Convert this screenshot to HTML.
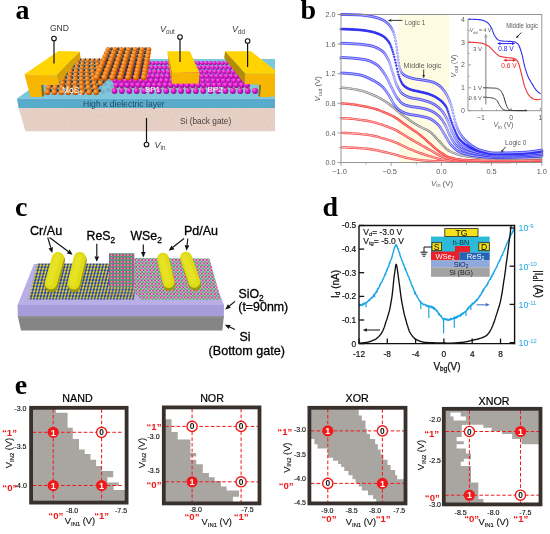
<!DOCTYPE html>
<html><head><meta charset="utf-8"><title>Figure</title>
<style>html,body{margin:0;padding:0;background:#fff}svg{display:block}text{white-space:pre}</style></head>
<body><svg width="550" height="534" viewBox="0 0 550 534">
<rect width="550" height="534" fill="#fff"/>
<defs>
<radialGradient id="gO" cx="35%" cy="30%" r="70%"><stop offset="0" stop-color="#ffb060"/><stop offset="0.5" stop-color="#f07c10"/><stop offset="1" stop-color="#b04800"/></radialGradient>
<radialGradient id="gM" cx="35%" cy="30%" r="70%"><stop offset="0" stop-color="#ff70f0"/><stop offset="0.45" stop-color="#e818cc"/><stop offset="1" stop-color="#8a0e92"/></radialGradient>
<radialGradient id="gK" cx="35%" cy="30%" r="70%"><stop offset="0" stop-color="#666"/><stop offset="1" stop-color="#111"/></radialGradient>
<filter id="noise" x="0" y="0" width="100%" height="100%"><feTurbulence type="fractalNoise" baseFrequency="0.9" numOctaves="2" seed="3" result="n"/><feColorMatrix in="n" type="matrix" values="0 0 0 0 0.88  0 0 0 0 0.78  0 0 0 0 0.74  0.9 0.9 0 0 -0.55"/><feComposite operator="in" in2="SourceGraphic"/></filter>
</defs>
<polygon points="18.6,108.0 275.0,108.0 275.0,131.3 25.5,131.3" fill="#e3c9bd" />
<polygon points="18.6,108.0 275.0,108.0 275.0,131.3 25.5,131.3" fill="#cfa79a" filter="url(#noise)" opacity="0.6"/>
<polygon points="17.0,98.5 72.0,59.0 275.0,59.0 275.0,98.5" fill="#7cc6de" />
<polygon points="17.0,98.5 275.0,98.5 275.0,108.0 18.6,108.0" fill="#59abcb" />
<circle cx="120.6" cy="63.2" r="2.15" fill="url(#gM)"/>
<circle cx="124.7" cy="63.2" r="2.15" fill="url(#gM)"/>
<circle cx="128.7" cy="63.2" r="2.15" fill="url(#gM)"/>
<circle cx="132.8" cy="63.2" r="2.15" fill="url(#gM)"/>
<circle cx="136.9" cy="63.2" r="2.15" fill="url(#gM)"/>
<circle cx="141.0" cy="63.2" r="2.15" fill="url(#gM)"/>
<circle cx="145.1" cy="63.2" r="2.15" fill="url(#gM)"/>
<circle cx="149.2" cy="63.2" r="2.15" fill="url(#gM)"/>
<circle cx="153.3" cy="63.2" r="2.15" fill="url(#gM)"/>
<circle cx="157.3" cy="63.2" r="2.15" fill="url(#gM)"/>
<circle cx="161.4" cy="63.2" r="2.15" fill="url(#gM)"/>
<circle cx="165.5" cy="63.2" r="2.15" fill="url(#gM)"/>
<circle cx="169.6" cy="63.2" r="2.15" fill="url(#gM)"/>
<circle cx="173.7" cy="63.2" r="2.15" fill="url(#gM)"/>
<circle cx="177.8" cy="63.2" r="2.15" fill="url(#gM)"/>
<circle cx="181.8" cy="63.2" r="2.15" fill="url(#gM)"/>
<circle cx="185.9" cy="63.2" r="2.15" fill="url(#gM)"/>
<circle cx="190.0" cy="63.2" r="2.15" fill="url(#gM)"/>
<circle cx="194.1" cy="63.2" r="2.15" fill="url(#gM)"/>
<circle cx="198.2" cy="63.2" r="2.15" fill="url(#gM)"/>
<circle cx="202.3" cy="63.2" r="2.15" fill="url(#gM)"/>
<circle cx="206.4" cy="63.2" r="2.15" fill="url(#gM)"/>
<circle cx="210.4" cy="63.2" r="2.15" fill="url(#gM)"/>
<circle cx="214.5" cy="63.2" r="2.15" fill="url(#gM)"/>
<circle cx="218.6" cy="63.2" r="2.15" fill="url(#gM)"/>
<circle cx="222.7" cy="63.2" r="2.15" fill="url(#gM)"/>
<circle cx="226.8" cy="63.2" r="2.15" fill="url(#gM)"/>
<circle cx="121.4" cy="67.6" r="2.29" fill="url(#gM)"/>
<circle cx="125.8" cy="67.6" r="2.29" fill="url(#gM)"/>
<circle cx="130.1" cy="67.6" r="2.29" fill="url(#gM)"/>
<circle cx="134.5" cy="67.6" r="2.29" fill="url(#gM)"/>
<circle cx="138.8" cy="67.6" r="2.29" fill="url(#gM)"/>
<circle cx="143.2" cy="67.6" r="2.29" fill="url(#gM)"/>
<circle cx="147.5" cy="67.6" r="2.29" fill="url(#gM)"/>
<circle cx="151.9" cy="67.6" r="2.29" fill="url(#gM)"/>
<circle cx="156.2" cy="67.6" r="2.29" fill="url(#gM)"/>
<circle cx="160.6" cy="67.6" r="2.29" fill="url(#gM)"/>
<circle cx="165.0" cy="67.6" r="2.29" fill="url(#gM)"/>
<circle cx="169.3" cy="67.6" r="2.29" fill="url(#gM)"/>
<circle cx="173.7" cy="67.6" r="2.29" fill="url(#gM)"/>
<circle cx="178.0" cy="67.6" r="2.29" fill="url(#gM)"/>
<circle cx="182.4" cy="67.6" r="2.29" fill="url(#gM)"/>
<circle cx="186.7" cy="67.6" r="2.29" fill="url(#gM)"/>
<circle cx="191.1" cy="67.6" r="2.29" fill="url(#gM)"/>
<circle cx="195.5" cy="67.6" r="2.29" fill="url(#gM)"/>
<circle cx="199.8" cy="67.6" r="2.29" fill="url(#gM)"/>
<circle cx="204.2" cy="67.6" r="2.29" fill="url(#gM)"/>
<circle cx="208.5" cy="67.6" r="2.29" fill="url(#gM)"/>
<circle cx="212.9" cy="67.6" r="2.29" fill="url(#gM)"/>
<circle cx="217.2" cy="67.6" r="2.29" fill="url(#gM)"/>
<circle cx="221.6" cy="67.6" r="2.29" fill="url(#gM)"/>
<circle cx="225.9" cy="67.6" r="2.29" fill="url(#gM)"/>
<circle cx="230.3" cy="67.6" r="2.29" fill="url(#gM)"/>
<circle cx="117.9" cy="72.0" r="2.43" fill="url(#gM)"/>
<circle cx="122.5" cy="72.0" r="2.43" fill="url(#gM)"/>
<circle cx="127.1" cy="72.0" r="2.43" fill="url(#gM)"/>
<circle cx="131.7" cy="72.0" r="2.43" fill="url(#gM)"/>
<circle cx="136.4" cy="72.0" r="2.43" fill="url(#gM)"/>
<circle cx="141.0" cy="72.0" r="2.43" fill="url(#gM)"/>
<circle cx="145.6" cy="72.0" r="2.43" fill="url(#gM)"/>
<circle cx="150.3" cy="72.0" r="2.43" fill="url(#gM)"/>
<circle cx="154.9" cy="72.0" r="2.43" fill="url(#gM)"/>
<circle cx="159.5" cy="72.0" r="2.43" fill="url(#gM)"/>
<circle cx="164.1" cy="72.0" r="2.43" fill="url(#gM)"/>
<circle cx="168.8" cy="72.0" r="2.43" fill="url(#gM)"/>
<circle cx="173.4" cy="72.0" r="2.43" fill="url(#gM)"/>
<circle cx="178.0" cy="72.0" r="2.43" fill="url(#gM)"/>
<circle cx="182.6" cy="72.0" r="2.43" fill="url(#gM)"/>
<circle cx="187.3" cy="72.0" r="2.43" fill="url(#gM)"/>
<circle cx="191.9" cy="72.0" r="2.43" fill="url(#gM)"/>
<circle cx="196.5" cy="72.0" r="2.43" fill="url(#gM)"/>
<circle cx="201.2" cy="72.0" r="2.43" fill="url(#gM)"/>
<circle cx="205.8" cy="72.0" r="2.43" fill="url(#gM)"/>
<circle cx="210.4" cy="72.0" r="2.43" fill="url(#gM)"/>
<circle cx="215.0" cy="72.0" r="2.43" fill="url(#gM)"/>
<circle cx="219.7" cy="72.0" r="2.43" fill="url(#gM)"/>
<circle cx="224.3" cy="72.0" r="2.43" fill="url(#gM)"/>
<circle cx="228.9" cy="72.0" r="2.43" fill="url(#gM)"/>
<circle cx="233.6" cy="72.0" r="2.43" fill="url(#gM)"/>
<circle cx="238.2" cy="72.0" r="2.43" fill="url(#gM)"/>
<circle cx="119.0" cy="76.4" r="2.58" fill="url(#gM)"/>
<circle cx="123.9" cy="76.4" r="2.58" fill="url(#gM)"/>
<circle cx="128.8" cy="76.4" r="2.58" fill="url(#gM)"/>
<circle cx="133.7" cy="76.4" r="2.58" fill="url(#gM)"/>
<circle cx="138.6" cy="76.4" r="2.58" fill="url(#gM)"/>
<circle cx="143.4" cy="76.4" r="2.58" fill="url(#gM)"/>
<circle cx="148.3" cy="76.4" r="2.58" fill="url(#gM)"/>
<circle cx="153.2" cy="76.4" r="2.58" fill="url(#gM)"/>
<circle cx="158.1" cy="76.4" r="2.58" fill="url(#gM)"/>
<circle cx="163.0" cy="76.4" r="2.58" fill="url(#gM)"/>
<circle cx="167.9" cy="76.4" r="2.58" fill="url(#gM)"/>
<circle cx="172.8" cy="76.4" r="2.58" fill="url(#gM)"/>
<circle cx="177.7" cy="76.4" r="2.58" fill="url(#gM)"/>
<circle cx="182.6" cy="76.4" r="2.58" fill="url(#gM)"/>
<circle cx="187.5" cy="76.4" r="2.58" fill="url(#gM)"/>
<circle cx="192.4" cy="76.4" r="2.58" fill="url(#gM)"/>
<circle cx="197.3" cy="76.4" r="2.58" fill="url(#gM)"/>
<circle cx="202.2" cy="76.4" r="2.58" fill="url(#gM)"/>
<circle cx="207.1" cy="76.4" r="2.58" fill="url(#gM)"/>
<circle cx="212.0" cy="76.4" r="2.58" fill="url(#gM)"/>
<circle cx="216.9" cy="76.4" r="2.58" fill="url(#gM)"/>
<circle cx="221.8" cy="76.4" r="2.58" fill="url(#gM)"/>
<circle cx="226.7" cy="76.4" r="2.58" fill="url(#gM)"/>
<circle cx="231.6" cy="76.4" r="2.58" fill="url(#gM)"/>
<circle cx="236.5" cy="76.4" r="2.58" fill="url(#gM)"/>
<circle cx="241.4" cy="76.4" r="2.58" fill="url(#gM)"/>
<circle cx="115.1" cy="80.8" r="2.72" fill="url(#gM)"/>
<circle cx="120.3" cy="80.8" r="2.72" fill="url(#gM)"/>
<circle cx="125.5" cy="80.8" r="2.72" fill="url(#gM)"/>
<circle cx="130.7" cy="80.8" r="2.72" fill="url(#gM)"/>
<circle cx="135.8" cy="80.8" r="2.72" fill="url(#gM)"/>
<circle cx="141.0" cy="80.8" r="2.72" fill="url(#gM)"/>
<circle cx="146.2" cy="80.8" r="2.72" fill="url(#gM)"/>
<circle cx="151.3" cy="80.8" r="2.72" fill="url(#gM)"/>
<circle cx="156.5" cy="80.8" r="2.72" fill="url(#gM)"/>
<circle cx="161.7" cy="80.8" r="2.72" fill="url(#gM)"/>
<circle cx="166.9" cy="80.8" r="2.72" fill="url(#gM)"/>
<circle cx="172.0" cy="80.8" r="2.72" fill="url(#gM)"/>
<circle cx="177.2" cy="80.8" r="2.72" fill="url(#gM)"/>
<circle cx="182.4" cy="80.8" r="2.72" fill="url(#gM)"/>
<circle cx="187.5" cy="80.8" r="2.72" fill="url(#gM)"/>
<circle cx="192.7" cy="80.8" r="2.72" fill="url(#gM)"/>
<circle cx="197.9" cy="80.8" r="2.72" fill="url(#gM)"/>
<circle cx="203.0" cy="80.8" r="2.72" fill="url(#gM)"/>
<circle cx="208.2" cy="80.8" r="2.72" fill="url(#gM)"/>
<circle cx="213.4" cy="80.8" r="2.72" fill="url(#gM)"/>
<circle cx="218.6" cy="80.8" r="2.72" fill="url(#gM)"/>
<circle cx="223.7" cy="80.8" r="2.72" fill="url(#gM)"/>
<circle cx="228.9" cy="80.8" r="2.72" fill="url(#gM)"/>
<circle cx="234.1" cy="80.8" r="2.72" fill="url(#gM)"/>
<circle cx="239.2" cy="80.8" r="2.72" fill="url(#gM)"/>
<circle cx="244.4" cy="80.8" r="2.72" fill="url(#gM)"/>
<circle cx="116.5" cy="85.2" r="2.86" fill="url(#gM)"/>
<circle cx="122.0" cy="85.2" r="2.86" fill="url(#gM)"/>
<circle cx="127.4" cy="85.2" r="2.86" fill="url(#gM)"/>
<circle cx="132.8" cy="85.2" r="2.86" fill="url(#gM)"/>
<circle cx="138.3" cy="85.2" r="2.86" fill="url(#gM)"/>
<circle cx="143.7" cy="85.2" r="2.86" fill="url(#gM)"/>
<circle cx="149.2" cy="85.2" r="2.86" fill="url(#gM)"/>
<circle cx="154.6" cy="85.2" r="2.86" fill="url(#gM)"/>
<circle cx="160.0" cy="85.2" r="2.86" fill="url(#gM)"/>
<circle cx="165.5" cy="85.2" r="2.86" fill="url(#gM)"/>
<circle cx="170.9" cy="85.2" r="2.86" fill="url(#gM)"/>
<circle cx="176.4" cy="85.2" r="2.86" fill="url(#gM)"/>
<circle cx="181.8" cy="85.2" r="2.86" fill="url(#gM)"/>
<circle cx="187.3" cy="85.2" r="2.86" fill="url(#gM)"/>
<circle cx="192.7" cy="85.2" r="2.86" fill="url(#gM)"/>
<circle cx="198.1" cy="85.2" r="2.86" fill="url(#gM)"/>
<circle cx="203.6" cy="85.2" r="2.86" fill="url(#gM)"/>
<circle cx="209.0" cy="85.2" r="2.86" fill="url(#gM)"/>
<circle cx="214.5" cy="85.2" r="2.86" fill="url(#gM)"/>
<circle cx="219.9" cy="85.2" r="2.86" fill="url(#gM)"/>
<circle cx="225.4" cy="85.2" r="2.86" fill="url(#gM)"/>
<circle cx="230.8" cy="85.2" r="2.86" fill="url(#gM)"/>
<circle cx="236.2" cy="85.2" r="2.86" fill="url(#gM)"/>
<circle cx="241.7" cy="85.2" r="2.86" fill="url(#gM)"/>
<circle cx="247.1" cy="85.2" r="2.86" fill="url(#gM)"/>
<circle cx="115.7" cy="88.2" r="0.8" fill="#f08020"/>
<circle cx="112.1" cy="88.4" r="0.7" fill="#f0a030"/>
<circle cx="114.5" cy="91.0" r="2.90" fill="url(#gM)"/>
<circle cx="123.1" cy="88.2" r="0.8" fill="#f08020"/>
<circle cx="119.5" cy="88.4" r="0.7" fill="#f0a030"/>
<circle cx="121.9" cy="91.0" r="2.90" fill="url(#gM)"/>
<circle cx="130.5" cy="88.2" r="0.8" fill="#f08020"/>
<circle cx="126.9" cy="88.4" r="0.7" fill="#f0a030"/>
<circle cx="129.3" cy="91.0" r="2.90" fill="url(#gM)"/>
<circle cx="137.9" cy="88.2" r="0.8" fill="#f08020"/>
<circle cx="134.3" cy="88.4" r="0.7" fill="#f0a030"/>
<circle cx="136.7" cy="91.0" r="2.90" fill="url(#gM)"/>
<circle cx="145.3" cy="88.2" r="0.8" fill="#f08020"/>
<circle cx="141.7" cy="88.4" r="0.7" fill="#f0a030"/>
<circle cx="144.1" cy="91.0" r="2.90" fill="url(#gM)"/>
<circle cx="152.7" cy="88.2" r="0.8" fill="#f08020"/>
<circle cx="149.1" cy="88.4" r="0.7" fill="#f0a030"/>
<circle cx="151.5" cy="91.0" r="2.90" fill="url(#gM)"/>
<circle cx="160.1" cy="88.2" r="0.8" fill="#f08020"/>
<circle cx="156.5" cy="88.4" r="0.7" fill="#f0a030"/>
<circle cx="158.9" cy="91.0" r="2.90" fill="url(#gM)"/>
<circle cx="167.5" cy="88.2" r="0.8" fill="#f08020"/>
<circle cx="163.9" cy="88.4" r="0.7" fill="#f0a030"/>
<circle cx="166.3" cy="91.0" r="2.90" fill="url(#gM)"/>
<circle cx="174.9" cy="88.2" r="0.8" fill="#f08020"/>
<circle cx="171.3" cy="88.4" r="0.7" fill="#f0a030"/>
<circle cx="173.7" cy="91.0" r="2.90" fill="url(#gM)"/>
<circle cx="182.3" cy="88.2" r="0.8" fill="#f08020"/>
<circle cx="178.7" cy="88.4" r="0.7" fill="#f0a030"/>
<circle cx="181.1" cy="91.0" r="2.90" fill="url(#gM)"/>
<circle cx="189.7" cy="88.2" r="0.8" fill="#f08020"/>
<circle cx="186.1" cy="88.4" r="0.7" fill="#f0a030"/>
<circle cx="188.5" cy="91.0" r="2.90" fill="url(#gM)"/>
<circle cx="197.1" cy="88.2" r="0.8" fill="#f08020"/>
<circle cx="193.5" cy="88.4" r="0.7" fill="#f0a030"/>
<circle cx="195.9" cy="91.0" r="2.90" fill="url(#gM)"/>
<circle cx="204.5" cy="88.2" r="0.8" fill="#f08020"/>
<circle cx="200.9" cy="88.4" r="0.7" fill="#f0a030"/>
<circle cx="203.3" cy="91.0" r="2.90" fill="url(#gM)"/>
<circle cx="211.9" cy="88.2" r="0.8" fill="#f08020"/>
<circle cx="208.3" cy="88.4" r="0.7" fill="#f0a030"/>
<circle cx="210.7" cy="91.0" r="2.90" fill="url(#gM)"/>
<circle cx="219.3" cy="88.2" r="0.8" fill="#f08020"/>
<circle cx="215.7" cy="88.4" r="0.7" fill="#f0a030"/>
<circle cx="218.1" cy="91.0" r="2.90" fill="url(#gM)"/>
<circle cx="226.7" cy="88.2" r="0.8" fill="#f08020"/>
<circle cx="223.1" cy="88.4" r="0.7" fill="#f0a030"/>
<circle cx="225.5" cy="91.0" r="2.90" fill="url(#gM)"/>
<circle cx="234.1" cy="88.2" r="0.8" fill="#f08020"/>
<circle cx="230.5" cy="88.4" r="0.7" fill="#f0a030"/>
<circle cx="232.9" cy="91.0" r="2.90" fill="url(#gM)"/>
<circle cx="241.5" cy="88.2" r="0.8" fill="#f08020"/>
<circle cx="237.9" cy="88.4" r="0.7" fill="#f0a030"/>
<circle cx="240.3" cy="91.0" r="2.90" fill="url(#gM)"/>
<circle cx="248.9" cy="88.2" r="0.8" fill="#f08020"/>
<circle cx="245.3" cy="88.4" r="0.7" fill="#f0a030"/>
<circle cx="247.7" cy="91.0" r="2.90" fill="url(#gM)"/>
<circle cx="256.3" cy="88.2" r="0.8" fill="#f08020"/>
<circle cx="252.7" cy="88.4" r="0.7" fill="#f0a030"/>
<circle cx="255.1" cy="91.0" r="2.90" fill="url(#gM)"/>
<circle cx="100.0" cy="88.0" r="2.2" fill="#7f9fb0" opacity="0.55"/>
<circle cx="105.0" cy="84.0" r="2.2" fill="#7f9fb0" opacity="0.55"/>
<circle cx="108.0" cy="90.0" r="2.2" fill="#7f9fb0" opacity="0.55"/>
<circle cx="112.0" cy="86.0" r="2.2" fill="#7f9fb0" opacity="0.55"/>
<circle cx="103.0" cy="92.0" r="2.2" fill="#7f9fb0" opacity="0.55"/>
<circle cx="110.0" cy="80.0" r="2.2" fill="#7f9fb0" opacity="0.55"/>
<circle cx="76.0" cy="59.4" r="1.06" fill="url(#gK)"/>
<circle cx="73.8" cy="60.5" r="1.93" fill="url(#gO)"/>
<circle cx="80.6" cy="59.4" r="1.06" fill="url(#gK)"/>
<circle cx="78.5" cy="60.5" r="1.93" fill="url(#gO)"/>
<circle cx="85.3" cy="59.4" r="1.06" fill="url(#gK)"/>
<circle cx="83.2" cy="60.5" r="1.93" fill="url(#gO)"/>
<circle cx="89.9" cy="59.4" r="1.06" fill="url(#gK)"/>
<circle cx="87.8" cy="60.5" r="1.93" fill="url(#gO)"/>
<circle cx="94.6" cy="59.4" r="1.06" fill="url(#gK)"/>
<circle cx="92.5" cy="60.5" r="1.93" fill="url(#gO)"/>
<circle cx="99.2" cy="59.4" r="1.06" fill="url(#gK)"/>
<circle cx="97.1" cy="60.5" r="1.93" fill="url(#gO)"/>
<circle cx="103.9" cy="59.4" r="1.06" fill="url(#gK)"/>
<circle cx="101.8" cy="60.5" r="1.93" fill="url(#gO)"/>
<circle cx="108.6" cy="59.4" r="1.06" fill="url(#gK)"/>
<circle cx="106.4" cy="60.5" r="1.93" fill="url(#gO)"/>
<circle cx="113.2" cy="59.4" r="1.06" fill="url(#gK)"/>
<circle cx="111.1" cy="60.5" r="1.93" fill="url(#gO)"/>
<circle cx="117.9" cy="59.4" r="1.06" fill="url(#gK)"/>
<circle cx="115.7" cy="60.5" r="1.93" fill="url(#gO)"/>
<circle cx="122.5" cy="59.4" r="1.06" fill="url(#gK)"/>
<circle cx="120.4" cy="60.5" r="1.93" fill="url(#gO)"/>
<circle cx="74.8" cy="62.8" r="1.12" fill="url(#gK)"/>
<circle cx="72.6" cy="64.0" r="2.03" fill="url(#gO)"/>
<circle cx="79.8" cy="62.8" r="1.12" fill="url(#gK)"/>
<circle cx="77.5" cy="64.0" r="2.03" fill="url(#gO)"/>
<circle cx="84.7" cy="62.8" r="1.12" fill="url(#gK)"/>
<circle cx="82.4" cy="64.0" r="2.03" fill="url(#gO)"/>
<circle cx="89.6" cy="62.8" r="1.12" fill="url(#gK)"/>
<circle cx="87.3" cy="64.0" r="2.03" fill="url(#gO)"/>
<circle cx="94.5" cy="62.8" r="1.12" fill="url(#gK)"/>
<circle cx="92.2" cy="64.0" r="2.03" fill="url(#gO)"/>
<circle cx="99.4" cy="62.8" r="1.12" fill="url(#gK)"/>
<circle cx="97.2" cy="64.0" r="2.03" fill="url(#gO)"/>
<circle cx="104.3" cy="62.8" r="1.12" fill="url(#gK)"/>
<circle cx="102.1" cy="64.0" r="2.03" fill="url(#gO)"/>
<circle cx="109.2" cy="62.8" r="1.12" fill="url(#gK)"/>
<circle cx="107.0" cy="64.0" r="2.03" fill="url(#gO)"/>
<circle cx="114.1" cy="62.8" r="1.12" fill="url(#gK)"/>
<circle cx="111.9" cy="64.0" r="2.03" fill="url(#gO)"/>
<circle cx="119.0" cy="62.8" r="1.12" fill="url(#gK)"/>
<circle cx="116.8" cy="64.0" r="2.03" fill="url(#gO)"/>
<circle cx="73.9" cy="66.3" r="1.18" fill="url(#gK)"/>
<circle cx="71.5" cy="67.6" r="2.14" fill="url(#gO)"/>
<circle cx="79.0" cy="66.3" r="1.18" fill="url(#gK)"/>
<circle cx="76.7" cy="67.6" r="2.14" fill="url(#gO)"/>
<circle cx="84.2" cy="66.3" r="1.18" fill="url(#gK)"/>
<circle cx="81.9" cy="67.6" r="2.14" fill="url(#gO)"/>
<circle cx="89.4" cy="66.3" r="1.18" fill="url(#gK)"/>
<circle cx="87.0" cy="67.6" r="2.14" fill="url(#gO)"/>
<circle cx="94.6" cy="66.3" r="1.18" fill="url(#gK)"/>
<circle cx="92.2" cy="67.6" r="2.14" fill="url(#gO)"/>
<circle cx="99.7" cy="66.3" r="1.18" fill="url(#gK)"/>
<circle cx="97.4" cy="67.6" r="2.14" fill="url(#gO)"/>
<circle cx="104.9" cy="66.3" r="1.18" fill="url(#gK)"/>
<circle cx="102.6" cy="67.6" r="2.14" fill="url(#gO)"/>
<circle cx="110.1" cy="66.3" r="1.18" fill="url(#gK)"/>
<circle cx="107.7" cy="67.6" r="2.14" fill="url(#gO)"/>
<circle cx="115.3" cy="66.3" r="1.18" fill="url(#gK)"/>
<circle cx="112.9" cy="67.6" r="2.14" fill="url(#gO)"/>
<circle cx="67.6" cy="70.0" r="1.24" fill="url(#gK)"/>
<circle cx="65.1" cy="71.3" r="2.26" fill="url(#gO)"/>
<circle cx="73.1" cy="70.0" r="1.24" fill="url(#gK)"/>
<circle cx="70.6" cy="71.3" r="2.26" fill="url(#gO)"/>
<circle cx="78.5" cy="70.0" r="1.24" fill="url(#gK)"/>
<circle cx="76.0" cy="71.3" r="2.26" fill="url(#gO)"/>
<circle cx="84.0" cy="70.0" r="1.24" fill="url(#gK)"/>
<circle cx="81.5" cy="71.3" r="2.26" fill="url(#gO)"/>
<circle cx="89.4" cy="70.0" r="1.24" fill="url(#gK)"/>
<circle cx="86.9" cy="71.3" r="2.26" fill="url(#gO)"/>
<circle cx="94.9" cy="70.0" r="1.24" fill="url(#gK)"/>
<circle cx="92.4" cy="71.3" r="2.26" fill="url(#gO)"/>
<circle cx="100.3" cy="70.0" r="1.24" fill="url(#gK)"/>
<circle cx="97.8" cy="71.3" r="2.26" fill="url(#gO)"/>
<circle cx="105.8" cy="70.0" r="1.24" fill="url(#gK)"/>
<circle cx="103.3" cy="71.3" r="2.26" fill="url(#gO)"/>
<circle cx="111.2" cy="70.0" r="1.24" fill="url(#gK)"/>
<circle cx="108.7" cy="71.3" r="2.26" fill="url(#gO)"/>
<circle cx="66.7" cy="73.7" r="1.31" fill="url(#gK)"/>
<circle cx="64.1" cy="75.1" r="2.37" fill="url(#gO)"/>
<circle cx="72.5" cy="73.7" r="1.31" fill="url(#gK)"/>
<circle cx="69.9" cy="75.1" r="2.37" fill="url(#gO)"/>
<circle cx="78.2" cy="73.7" r="1.31" fill="url(#gK)"/>
<circle cx="75.6" cy="75.1" r="2.37" fill="url(#gO)"/>
<circle cx="83.9" cy="73.7" r="1.31" fill="url(#gK)"/>
<circle cx="81.3" cy="75.1" r="2.37" fill="url(#gO)"/>
<circle cx="89.6" cy="73.7" r="1.31" fill="url(#gK)"/>
<circle cx="87.0" cy="75.1" r="2.37" fill="url(#gO)"/>
<circle cx="95.4" cy="73.7" r="1.31" fill="url(#gK)"/>
<circle cx="92.7" cy="75.1" r="2.37" fill="url(#gO)"/>
<circle cx="101.1" cy="73.7" r="1.31" fill="url(#gK)"/>
<circle cx="98.5" cy="75.1" r="2.37" fill="url(#gO)"/>
<circle cx="106.8" cy="73.7" r="1.31" fill="url(#gK)"/>
<circle cx="104.2" cy="75.1" r="2.37" fill="url(#gO)"/>
<circle cx="112.5" cy="73.7" r="1.31" fill="url(#gK)"/>
<circle cx="109.9" cy="75.1" r="2.37" fill="url(#gO)"/>
<circle cx="60.0" cy="77.5" r="1.37" fill="url(#gK)"/>
<circle cx="57.3" cy="79.0" r="2.49" fill="url(#gO)"/>
<circle cx="66.0" cy="77.5" r="1.37" fill="url(#gK)"/>
<circle cx="63.3" cy="79.0" r="2.49" fill="url(#gO)"/>
<circle cx="72.1" cy="77.5" r="1.37" fill="url(#gK)"/>
<circle cx="69.3" cy="79.0" r="2.49" fill="url(#gO)"/>
<circle cx="78.1" cy="77.5" r="1.37" fill="url(#gK)"/>
<circle cx="75.3" cy="79.0" r="2.49" fill="url(#gO)"/>
<circle cx="84.1" cy="77.5" r="1.37" fill="url(#gK)"/>
<circle cx="81.3" cy="79.0" r="2.49" fill="url(#gO)"/>
<circle cx="90.1" cy="77.5" r="1.37" fill="url(#gK)"/>
<circle cx="87.3" cy="79.0" r="2.49" fill="url(#gO)"/>
<circle cx="96.1" cy="77.5" r="1.37" fill="url(#gK)"/>
<circle cx="93.3" cy="79.0" r="2.49" fill="url(#gO)"/>
<circle cx="102.1" cy="77.5" r="1.37" fill="url(#gK)"/>
<circle cx="99.4" cy="79.0" r="2.49" fill="url(#gO)"/>
<circle cx="108.1" cy="77.5" r="1.37" fill="url(#gK)"/>
<circle cx="105.4" cy="79.0" r="2.49" fill="url(#gO)"/>
<circle cx="59.0" cy="81.7" r="1.44" fill="url(#gK)"/>
<circle cx="56.2" cy="83.2" r="2.62" fill="url(#gO)"/>
<circle cx="65.4" cy="81.7" r="1.44" fill="url(#gK)"/>
<circle cx="62.5" cy="83.2" r="2.62" fill="url(#gO)"/>
<circle cx="71.7" cy="81.7" r="1.44" fill="url(#gK)"/>
<circle cx="68.8" cy="83.2" r="2.62" fill="url(#gO)"/>
<circle cx="78.0" cy="81.7" r="1.44" fill="url(#gK)"/>
<circle cx="75.1" cy="83.2" r="2.62" fill="url(#gO)"/>
<circle cx="84.3" cy="81.7" r="1.44" fill="url(#gK)"/>
<circle cx="81.4" cy="83.2" r="2.62" fill="url(#gO)"/>
<circle cx="90.6" cy="81.7" r="1.44" fill="url(#gK)"/>
<circle cx="87.7" cy="83.2" r="2.62" fill="url(#gO)"/>
<circle cx="97.0" cy="81.7" r="1.44" fill="url(#gK)"/>
<circle cx="94.1" cy="83.2" r="2.62" fill="url(#gO)"/>
<circle cx="103.3" cy="81.7" r="1.44" fill="url(#gK)"/>
<circle cx="100.4" cy="83.2" r="2.62" fill="url(#gO)"/>
<circle cx="51.5" cy="86.0" r="1.52" fill="url(#gK)"/>
<circle cx="48.5" cy="87.6" r="2.75" fill="url(#gO)"/>
<circle cx="58.2" cy="86.0" r="1.52" fill="url(#gK)"/>
<circle cx="55.1" cy="87.6" r="2.75" fill="url(#gO)"/>
<circle cx="64.8" cy="86.0" r="1.52" fill="url(#gK)"/>
<circle cx="61.8" cy="87.6" r="2.75" fill="url(#gO)"/>
<circle cx="71.5" cy="86.0" r="1.52" fill="url(#gK)"/>
<circle cx="68.4" cy="87.6" r="2.75" fill="url(#gO)"/>
<circle cx="78.1" cy="86.0" r="1.52" fill="url(#gK)"/>
<circle cx="75.1" cy="87.6" r="2.75" fill="url(#gO)"/>
<circle cx="84.7" cy="86.0" r="1.52" fill="url(#gK)"/>
<circle cx="81.7" cy="87.6" r="2.75" fill="url(#gO)"/>
<circle cx="91.4" cy="86.0" r="1.52" fill="url(#gK)"/>
<circle cx="88.3" cy="87.6" r="2.75" fill="url(#gO)"/>
<circle cx="98.0" cy="86.0" r="1.52" fill="url(#gK)"/>
<circle cx="95.0" cy="87.6" r="2.75" fill="url(#gO)"/>
<circle cx="50.5" cy="90.5" r="1.59" fill="url(#gK)"/>
<circle cx="47.3" cy="92.2" r="2.89" fill="url(#gO)"/>
<circle cx="57.5" cy="90.5" r="1.59" fill="url(#gK)"/>
<circle cx="54.3" cy="92.2" r="2.89" fill="url(#gO)"/>
<circle cx="64.4" cy="90.5" r="1.59" fill="url(#gK)"/>
<circle cx="61.3" cy="92.2" r="2.89" fill="url(#gO)"/>
<circle cx="71.4" cy="90.5" r="1.59" fill="url(#gK)"/>
<circle cx="68.2" cy="92.2" r="2.89" fill="url(#gO)"/>
<circle cx="78.4" cy="90.5" r="1.59" fill="url(#gK)"/>
<circle cx="75.2" cy="92.2" r="2.89" fill="url(#gO)"/>
<circle cx="85.4" cy="90.5" r="1.59" fill="url(#gK)"/>
<circle cx="82.2" cy="92.2" r="2.89" fill="url(#gO)"/>
<circle cx="92.4" cy="90.5" r="1.59" fill="url(#gK)"/>
<circle cx="89.2" cy="92.2" r="2.89" fill="url(#gO)"/>
<circle cx="99.3" cy="90.5" r="1.59" fill="url(#gK)"/>
<circle cx="96.1" cy="92.2" r="2.89" fill="url(#gO)"/>
<circle cx="111.6" cy="49.0" r="1.70" fill="url(#gK)"/>
<circle cx="108.0" cy="49.5" r="2.55" fill="url(#gO)"/>
<circle cx="110.2" cy="52.5" r="1.70" fill="url(#gK)"/>
<circle cx="106.6" cy="53.0" r="2.61" fill="url(#gO)"/>
<circle cx="108.7" cy="56.0" r="1.70" fill="url(#gK)"/>
<circle cx="105.1" cy="56.5" r="2.66" fill="url(#gO)"/>
<circle cx="107.3" cy="59.5" r="1.70" fill="url(#gK)"/>
<circle cx="103.7" cy="60.0" r="2.72" fill="url(#gO)"/>
<circle cx="105.8" cy="63.0" r="1.70" fill="url(#gK)"/>
<circle cx="102.2" cy="63.5" r="2.77" fill="url(#gO)"/>
<circle cx="104.4" cy="66.5" r="1.70" fill="url(#gK)"/>
<circle cx="100.8" cy="67.0" r="2.83" fill="url(#gO)"/>
<circle cx="103.0" cy="70.0" r="1.70" fill="url(#gK)"/>
<circle cx="99.4" cy="70.5" r="2.89" fill="url(#gO)"/>
<circle cx="101.5" cy="73.5" r="1.70" fill="url(#gK)"/>
<circle cx="97.9" cy="74.0" r="2.94" fill="url(#gO)"/>
<circle cx="100.1" cy="77.0" r="1.70" fill="url(#gK)"/>
<circle cx="96.5" cy="77.5" r="3.00" fill="url(#gO)"/>
<circle cx="118.4" cy="49.0" r="1.70" fill="url(#gK)"/>
<circle cx="114.8" cy="49.5" r="2.55" fill="url(#gO)"/>
<circle cx="117.1" cy="52.5" r="1.70" fill="url(#gK)"/>
<circle cx="113.5" cy="53.0" r="2.61" fill="url(#gO)"/>
<circle cx="115.8" cy="56.0" r="1.70" fill="url(#gK)"/>
<circle cx="112.2" cy="56.5" r="2.66" fill="url(#gO)"/>
<circle cx="114.5" cy="59.5" r="1.70" fill="url(#gK)"/>
<circle cx="110.9" cy="60.0" r="2.72" fill="url(#gO)"/>
<circle cx="113.2" cy="63.0" r="1.70" fill="url(#gK)"/>
<circle cx="109.6" cy="63.5" r="2.77" fill="url(#gO)"/>
<circle cx="111.9" cy="66.5" r="1.70" fill="url(#gK)"/>
<circle cx="108.3" cy="67.0" r="2.83" fill="url(#gO)"/>
<circle cx="110.6" cy="70.0" r="1.70" fill="url(#gK)"/>
<circle cx="107.0" cy="70.5" r="2.89" fill="url(#gO)"/>
<circle cx="109.3" cy="73.5" r="1.70" fill="url(#gK)"/>
<circle cx="105.7" cy="74.0" r="2.94" fill="url(#gO)"/>
<circle cx="108.0" cy="77.0" r="1.70" fill="url(#gK)"/>
<circle cx="104.4" cy="77.5" r="3.00" fill="url(#gO)"/>
<circle cx="125.2" cy="49.0" r="1.70" fill="url(#gK)"/>
<circle cx="121.6" cy="49.5" r="2.55" fill="url(#gO)"/>
<circle cx="124.0" cy="52.5" r="1.70" fill="url(#gK)"/>
<circle cx="120.4" cy="53.0" r="2.61" fill="url(#gO)"/>
<circle cx="122.9" cy="56.0" r="1.70" fill="url(#gK)"/>
<circle cx="119.3" cy="56.5" r="2.66" fill="url(#gO)"/>
<circle cx="121.7" cy="59.5" r="1.70" fill="url(#gK)"/>
<circle cx="118.1" cy="60.0" r="2.72" fill="url(#gO)"/>
<circle cx="120.5" cy="63.0" r="1.70" fill="url(#gK)"/>
<circle cx="116.9" cy="63.5" r="2.77" fill="url(#gO)"/>
<circle cx="119.4" cy="66.5" r="1.70" fill="url(#gK)"/>
<circle cx="115.8" cy="67.0" r="2.83" fill="url(#gO)"/>
<circle cx="118.2" cy="70.0" r="1.70" fill="url(#gK)"/>
<circle cx="114.6" cy="70.5" r="2.89" fill="url(#gO)"/>
<circle cx="117.1" cy="73.5" r="1.70" fill="url(#gK)"/>
<circle cx="113.5" cy="74.0" r="2.94" fill="url(#gO)"/>
<circle cx="115.9" cy="77.0" r="1.70" fill="url(#gK)"/>
<circle cx="112.3" cy="77.5" r="3.00" fill="url(#gO)"/>
<circle cx="132.0" cy="49.0" r="1.70" fill="url(#gK)"/>
<circle cx="128.4" cy="49.5" r="2.55" fill="url(#gO)"/>
<circle cx="131.0" cy="52.5" r="1.70" fill="url(#gK)"/>
<circle cx="127.4" cy="53.0" r="2.61" fill="url(#gO)"/>
<circle cx="130.0" cy="56.0" r="1.70" fill="url(#gK)"/>
<circle cx="126.4" cy="56.5" r="2.66" fill="url(#gO)"/>
<circle cx="128.9" cy="59.5" r="1.70" fill="url(#gK)"/>
<circle cx="125.3" cy="60.0" r="2.72" fill="url(#gO)"/>
<circle cx="127.9" cy="63.0" r="1.70" fill="url(#gK)"/>
<circle cx="124.3" cy="63.5" r="2.77" fill="url(#gO)"/>
<circle cx="126.9" cy="66.5" r="1.70" fill="url(#gK)"/>
<circle cx="123.3" cy="67.0" r="2.83" fill="url(#gO)"/>
<circle cx="125.8" cy="70.0" r="1.70" fill="url(#gK)"/>
<circle cx="122.2" cy="70.5" r="2.89" fill="url(#gO)"/>
<circle cx="124.8" cy="73.5" r="1.70" fill="url(#gK)"/>
<circle cx="121.2" cy="74.0" r="2.94" fill="url(#gO)"/>
<circle cx="123.8" cy="77.0" r="1.70" fill="url(#gK)"/>
<circle cx="120.2" cy="77.5" r="3.00" fill="url(#gO)"/>
<circle cx="138.8" cy="49.0" r="1.70" fill="url(#gK)"/>
<circle cx="135.2" cy="49.5" r="2.55" fill="url(#gO)"/>
<circle cx="137.9" cy="52.5" r="1.70" fill="url(#gK)"/>
<circle cx="134.3" cy="53.0" r="2.61" fill="url(#gO)"/>
<circle cx="137.0" cy="56.0" r="1.70" fill="url(#gK)"/>
<circle cx="133.4" cy="56.5" r="2.66" fill="url(#gO)"/>
<circle cx="136.1" cy="59.5" r="1.70" fill="url(#gK)"/>
<circle cx="132.5" cy="60.0" r="2.72" fill="url(#gO)"/>
<circle cx="135.2" cy="63.0" r="1.70" fill="url(#gK)"/>
<circle cx="131.6" cy="63.5" r="2.77" fill="url(#gO)"/>
<circle cx="134.4" cy="66.5" r="1.70" fill="url(#gK)"/>
<circle cx="130.8" cy="67.0" r="2.83" fill="url(#gO)"/>
<circle cx="133.5" cy="70.0" r="1.70" fill="url(#gK)"/>
<circle cx="129.9" cy="70.5" r="2.89" fill="url(#gO)"/>
<circle cx="132.6" cy="73.5" r="1.70" fill="url(#gK)"/>
<circle cx="129.0" cy="74.0" r="2.94" fill="url(#gO)"/>
<circle cx="131.7" cy="77.0" r="1.70" fill="url(#gK)"/>
<circle cx="128.1" cy="77.5" r="3.00" fill="url(#gO)"/>
<circle cx="145.6" cy="49.0" r="1.70" fill="url(#gK)"/>
<circle cx="142.0" cy="49.5" r="2.55" fill="url(#gO)"/>
<circle cx="144.8" cy="52.5" r="1.70" fill="url(#gK)"/>
<circle cx="141.2" cy="53.0" r="2.61" fill="url(#gO)"/>
<circle cx="144.1" cy="56.0" r="1.70" fill="url(#gK)"/>
<circle cx="140.5" cy="56.5" r="2.66" fill="url(#gO)"/>
<circle cx="143.3" cy="59.5" r="1.70" fill="url(#gK)"/>
<circle cx="139.8" cy="60.0" r="2.72" fill="url(#gO)"/>
<circle cx="142.6" cy="63.0" r="1.70" fill="url(#gK)"/>
<circle cx="139.0" cy="63.5" r="2.77" fill="url(#gO)"/>
<circle cx="141.8" cy="66.5" r="1.70" fill="url(#gK)"/>
<circle cx="138.2" cy="67.0" r="2.83" fill="url(#gO)"/>
<circle cx="141.1" cy="70.0" r="1.70" fill="url(#gK)"/>
<circle cx="137.5" cy="70.5" r="2.89" fill="url(#gO)"/>
<circle cx="140.3" cy="73.5" r="1.70" fill="url(#gK)"/>
<circle cx="136.8" cy="74.0" r="2.94" fill="url(#gO)"/>
<circle cx="139.6" cy="77.0" r="1.70" fill="url(#gK)"/>
<circle cx="136.0" cy="77.5" r="3.00" fill="url(#gO)"/>
<circle cx="148.8" cy="49.5" r="2.55" fill="url(#gO)"/>
<circle cx="148.2" cy="53.0" r="2.61" fill="url(#gO)"/>
<circle cx="147.6" cy="56.5" r="2.66" fill="url(#gO)"/>
<circle cx="147.0" cy="60.0" r="2.72" fill="url(#gO)"/>
<circle cx="146.4" cy="63.5" r="2.77" fill="url(#gO)"/>
<circle cx="145.7" cy="67.0" r="2.83" fill="url(#gO)"/>
<circle cx="145.1" cy="70.5" r="2.89" fill="url(#gO)"/>
<circle cx="144.5" cy="74.0" r="2.94" fill="url(#gO)"/>
<circle cx="143.9" cy="77.5" r="3.00" fill="url(#gO)"/>
<polygon points="167.4,51.2 189.8,51.2 199.4,72.6 171.9,73.1" fill="#ffd400" />
<polygon points="171.9,73.1 199.4,72.6 198.8,83.4 171.9,83.8" fill="#f7b602" />
<polygon points="167.4,51.2 171.9,73.1 171.9,83.8 168.4,62.5" fill="#d6a106" />
<polygon points="225.1,51.2 251.0,51.2 275.0,70.3 275.0,73.7 245.3,73.7" fill="#ffd400" />
<polygon points="225.1,51.2 245.3,73.7 244.4,83.8 224.2,58.0" fill="#b48c08" />
<polygon points="245.3,73.7 275.0,73.7 275.0,96.4 260.0,97.3 261.0,85.0 244.4,83.8" fill="#f7b602" />
<polygon points="261.0,85.0 260.0,97.3 258.3,95.6 259.3,85.0" fill="#8a6a10" />
<polygon points="24.5,74.2 58.6,50.9 79.7,51.6 56.5,75.6" fill="#ffd400" />
<polygon points="56.5,75.6 79.7,51.6 80.5,57.5 59.4,82.2" fill="#d6a106" />
<polygon points="24.5,74.2 56.5,75.6 59.4,82.2 58.6,85.1 41.2,85.1 42.0,96.9 30.5,96.9" fill="#f7b602" />
<polygon points="41.2,85.1 42.0,96.9 44.2,95.2 43.4,85.1" fill="#8a6a10" />
<line x1="54.0" y1="40.8" x2="54.0" y2="63.5" stroke="#111" stroke-width="1.2" /><circle cx="54.0" cy="38.5" r="2.3" fill="#fff" stroke="#111" stroke-width="1.1"/>
<line x1="180.0" y1="39.3" x2="180.0" y2="62.0" stroke="#111" stroke-width="1.2" /><circle cx="180.0" cy="37.0" r="2.3" fill="#fff" stroke="#111" stroke-width="1.1"/>
<line x1="247.6" y1="43.3" x2="247.6" y2="67.0" stroke="#111" stroke-width="1.2" /><circle cx="247.6" cy="41.0" r="2.3" fill="#fff" stroke="#111" stroke-width="1.1"/>
<line x1="146.5" y1="118.0" x2="146.5" y2="142.0" stroke="#111" stroke-width="1.2" /><circle cx="146.5" cy="144.5" r="2.3" fill="#fff" stroke="#111" stroke-width="1.1"/>
<text x="59.5" y="30.5" font-size="8.6" fill="#3a3a3a" text-anchor="middle" font-family="'Liberation Sans', sans-serif" >GND</text>
<text x="160" y="32" font-size="9" fill="#3a3a3a" font-family="'Liberation Sans', sans-serif"><tspan font-style="italic">V</tspan><tspan font-size="6.3" dy="2.2">out</tspan></text>
<text x="232" y="32" font-size="9" fill="#3a3a3a" font-family="'Liberation Sans', sans-serif"><tspan font-style="italic">V</tspan><tspan font-size="6.3" dy="2.2">dd</tspan></text>
<text x="154.5" y="147.5" font-size="9" fill="#3a3a3a" font-family="'Liberation Sans', sans-serif"><tspan font-style="italic">V</tspan><tspan font-size="6.3" dy="2.2">in</tspan></text>
<text x="62" y="92.5" font-size="8.4" fill="#fff" font-family="'Liberation Sans', sans-serif">MoS<tspan font-size="5.5" dy="2">2</tspan></text>
<text x="145.0" y="92.0" font-size="8" fill="#fff" font-family="'Liberation Sans', sans-serif" >BP1</text>
<text x="207.5" y="92.0" font-size="8" fill="#fff" font-family="'Liberation Sans', sans-serif" >BP2</text>
<text x="83.0" y="107.0" font-size="8.6" fill="#1f4a60" font-family="'Liberation Sans', sans-serif" >High κ dielectric layer</text>
<text x="180.0" y="124.0" font-size="8.3" fill="#4a4040" font-family="'Liberation Sans', sans-serif" >Si (back gate)</text>
<text x="15.6" y="18.6" font-size="28" fill="#000" font-weight="bold" font-family="'Liberation Serif', serif" >a</text>
<defs>
<marker id="mb" markerWidth="5" markerHeight="5" refX="2.5" refY="2.5" markerUnits="userSpaceOnUse"><circle cx="2.5" cy="2.5" r="1.02" fill="none" stroke="#3030f4" stroke-width="0.5"/></marker>
<marker id="mbf" markerWidth="5" markerHeight="5" refX="2.5" refY="2.5" markerUnits="userSpaceOnUse"><circle cx="2.5" cy="2.5" r="0.95" fill="#3c3cf4" stroke="#3030f0" stroke-width="0.5"/></marker>
<marker id="mg" markerWidth="5" markerHeight="5" refX="2.5" refY="2.5" markerUnits="userSpaceOnUse"><circle cx="2.5" cy="2.5" r="0.95" fill="none" stroke="#858585" stroke-width="0.5"/></marker>
<marker id="mr" markerWidth="5" markerHeight="5" refX="2.5" refY="2.5" markerUnits="userSpaceOnUse"><circle cx="2.5" cy="2.5" r="0.9" fill="none" stroke="#f03030" stroke-width="0.45"/></marker>
</defs>
<rect x="398.4" y="14.5" width="50.6" height="148.0" fill="#fffbe2"/>
<polyline points="341.0,147.4 343.0,147.4 345.0,147.4 347.0,147.5 349.0,147.6 351.1,147.7 353.1,147.8 355.1,147.9 357.1,148.0 359.1,148.1 361.1,148.3 363.1,148.4 365.1,148.6 367.1,148.8 369.1,149.0 371.1,149.3 373.2,149.6 375.2,150.0 377.2,150.4 379.2,150.8 381.2,151.3 383.2,151.8 385.2,152.2 387.2,152.7 389.2,153.2 391.2,153.7 393.3,154.1 395.3,154.7 397.3,155.2 399.3,155.8 401.3,156.4 403.3,156.9 405.3,157.5 407.3,158.0 409.3,158.4 411.4,158.8 413.4,159.1 415.4,159.4 417.4,159.7 419.4,159.9 421.4,160.2 423.4,160.4 425.4,160.6 427.4,160.7 429.4,160.9 431.4,161.0 433.5,161.1 435.5,161.2 437.5,161.3 439.5,161.4 441.5,161.5 443.5,161.6 445.5,161.6 447.5,161.7 449.5,161.7 451.5,161.7 453.6,161.7 455.6,161.8 457.6,161.8 459.6,161.8 461.6,161.8 463.6,161.8 465.6,161.9 467.6,161.9 469.6,161.9 471.6,161.9 473.7,161.9 475.7,161.9 477.7,161.9 479.7,161.9 481.7,162.0 483.7,162.0 485.7,162.0 487.7,162.0 489.7,162.0 491.8,162.0 493.8,162.0 495.8,162.0 497.8,162.0 499.8,162.0 501.8,162.0 503.8,162.0 505.8,162.0 507.8,162.0 509.8,162.0 511.9,161.9 513.9,161.9 515.9,161.9 517.9,161.9 519.9,161.8 521.9,161.8 523.9,161.8 525.9,161.7 527.9,161.7 529.9,161.7 532.0,161.6 534.0,161.6 536.0,161.5 538.0,161.5 540.0,161.4 542.0,161.4" fill="none" stroke="#f84848" stroke-width="2.4" stroke-linejoin="round"/><polyline points="341.0,147.4 343.0,147.4 345.0,147.4 347.0,147.5 349.0,147.6 351.1,147.7 353.1,147.8 355.1,147.9 357.1,148.0 359.1,148.1 361.1,148.3 363.1,148.4 365.1,148.6 367.1,148.8 369.1,149.0 371.1,149.3 373.2,149.6 375.2,150.0 377.2,150.4 379.2,150.8 381.2,151.3 383.2,151.8 385.2,152.2 387.2,152.7 389.2,153.2 391.2,153.7 393.3,154.1 395.3,154.7 397.3,155.2 399.3,155.8 401.3,156.4 403.3,156.9 405.3,157.5 407.3,158.0 409.3,158.4 411.4,158.8 413.4,159.1 415.4,159.4 417.4,159.7 419.4,159.9 421.4,160.2 423.4,160.4 425.4,160.6 427.4,160.7 429.4,160.9 431.4,161.0 433.5,161.1 435.5,161.2 437.5,161.3 439.5,161.4 441.5,161.5 443.5,161.6 445.5,161.6 447.5,161.7 449.5,161.7 451.5,161.7 453.6,161.7 455.6,161.8 457.6,161.8 459.6,161.8 461.6,161.8 463.6,161.8 465.6,161.9 467.6,161.9 469.6,161.9 471.6,161.9 473.7,161.9 475.7,161.9 477.7,161.9 479.7,161.9 481.7,162.0 483.7,162.0 485.7,162.0 487.7,162.0 489.7,162.0 491.8,162.0 493.8,162.0 495.8,162.0 497.8,162.0 499.8,162.0 501.8,162.0 503.8,162.0 505.8,162.0 507.8,162.0 509.8,162.0 511.9,161.9 513.9,161.9 515.9,161.9 517.9,161.9 519.9,161.8 521.9,161.8 523.9,161.8 525.9,161.7 527.9,161.7 529.9,161.7 532.0,161.6 534.0,161.6 536.0,161.5 538.0,161.5 540.0,161.4 542.0,161.4" fill="none" stroke="#ffc0c0" stroke-width="0.95" stroke-linejoin="round"/>
<polyline points="341.0,132.9 343.0,132.9 345.0,133.0 347.0,133.0 349.0,133.1 351.1,133.3 353.1,133.4 355.1,133.6 357.1,133.7 359.1,133.9 361.1,134.1 363.1,134.4 365.1,134.6 367.1,134.8 369.1,135.1 371.1,135.4 373.2,135.8 375.2,136.2 377.2,136.7 379.2,137.2 381.2,137.8 383.2,138.3 385.2,138.9 387.2,139.6 389.2,140.2 391.2,140.8 393.3,141.5 395.3,142.3 397.3,143.1 399.3,144.1 401.3,145.0 403.3,146.0 405.3,147.0 407.3,148.0 409.3,148.9 411.4,149.7 413.4,150.5 415.4,151.3 417.4,152.1 419.4,152.8 421.4,153.5 423.4,154.2 425.4,154.9 427.4,155.5 429.4,156.1 431.4,156.7 433.5,157.3 435.5,157.9 437.5,158.5 439.5,159.0 441.5,159.5 443.5,159.8 445.5,160.1 447.5,160.3 449.5,160.4 451.5,160.6 453.6,160.8 455.6,160.9 457.6,161.0 459.6,161.1 461.6,161.2 463.6,161.3 465.6,161.3 467.6,161.3 469.6,161.4 471.6,161.4 473.7,161.4 475.7,161.5 477.7,161.5 479.7,161.5 481.7,161.5 483.7,161.5 485.7,161.5 487.7,161.6 489.7,161.6 491.8,161.6 493.8,161.6 495.8,161.6 497.8,161.6 499.8,161.6 501.8,161.6 503.8,161.6 505.8,161.6 507.8,161.6 509.8,161.6 511.9,161.5 513.9,161.5 515.9,161.5 517.9,161.5 519.9,161.5 521.9,161.4 523.9,161.4 525.9,161.4 527.9,161.3 529.9,161.3 532.0,161.2 534.0,161.2 536.0,161.2 538.0,161.1 540.0,161.1 542.0,161.0" fill="none" stroke="#f84848" stroke-width="2.4" stroke-linejoin="round"/><polyline points="341.0,132.9 343.0,132.9 345.0,133.0 347.0,133.0 349.0,133.1 351.1,133.3 353.1,133.4 355.1,133.6 357.1,133.7 359.1,133.9 361.1,134.1 363.1,134.4 365.1,134.6 367.1,134.8 369.1,135.1 371.1,135.4 373.2,135.8 375.2,136.2 377.2,136.7 379.2,137.2 381.2,137.8 383.2,138.3 385.2,138.9 387.2,139.6 389.2,140.2 391.2,140.8 393.3,141.5 395.3,142.3 397.3,143.1 399.3,144.1 401.3,145.0 403.3,146.0 405.3,147.0 407.3,148.0 409.3,148.9 411.4,149.7 413.4,150.5 415.4,151.3 417.4,152.1 419.4,152.8 421.4,153.5 423.4,154.2 425.4,154.9 427.4,155.5 429.4,156.1 431.4,156.7 433.5,157.3 435.5,157.9 437.5,158.5 439.5,159.0 441.5,159.5 443.5,159.8 445.5,160.1 447.5,160.3 449.5,160.4 451.5,160.6 453.6,160.8 455.6,160.9 457.6,161.0 459.6,161.1 461.6,161.2 463.6,161.3 465.6,161.3 467.6,161.3 469.6,161.4 471.6,161.4 473.7,161.4 475.7,161.5 477.7,161.5 479.7,161.5 481.7,161.5 483.7,161.5 485.7,161.5 487.7,161.6 489.7,161.6 491.8,161.6 493.8,161.6 495.8,161.6 497.8,161.6 499.8,161.6 501.8,161.6 503.8,161.6 505.8,161.6 507.8,161.6 509.8,161.6 511.9,161.5 513.9,161.5 515.9,161.5 517.9,161.5 519.9,161.5 521.9,161.4 523.9,161.4 525.9,161.4 527.9,161.3 529.9,161.3 532.0,161.2 534.0,161.2 536.0,161.2 538.0,161.1 540.0,161.1 542.0,161.0" fill="none" stroke="#ffc0c0" stroke-width="0.95" stroke-linejoin="round"/>
<polyline points="341.0,118.2 343.0,118.2 345.0,118.3 347.0,118.4 349.0,118.5 351.1,118.7 353.1,118.9 355.1,119.1 357.1,119.4 359.1,119.7 361.1,119.9 363.1,120.2 365.1,120.5 367.1,120.8 369.1,121.2 371.1,121.6 373.2,122.1 375.2,122.6 377.2,123.1 379.2,123.8 381.2,124.4 383.2,125.1 385.2,125.8 387.2,126.5 389.2,127.3 391.2,128.1 393.3,128.9 395.3,129.9 397.3,130.9 399.3,132.1 401.3,133.2 403.3,134.5 405.3,135.7 407.3,137.0 409.3,138.2 411.4,139.4 413.4,140.6 415.4,141.7 417.4,142.9 419.4,144.0 421.4,145.2 423.4,146.3 425.4,147.4 427.4,148.6 429.4,149.7 431.4,150.8 433.5,152.0 435.5,153.2 437.5,154.4 439.5,155.4 441.5,156.3 443.5,157.0 445.5,157.7 447.5,158.4 449.5,159.0 451.5,159.5 453.6,159.8 455.6,160.0 457.6,160.2 459.6,160.4 461.6,160.5 463.6,160.6 465.6,160.7 467.6,160.8 469.6,160.9 471.6,160.9 473.7,161.0 475.7,161.0 477.7,161.1 479.7,161.1 481.7,161.1 483.7,161.2 485.7,161.2 487.7,161.2 489.7,161.2 491.8,161.3 493.8,161.3 495.8,161.3 497.8,161.3 499.8,161.3 501.8,161.3 503.8,161.3 505.8,161.3 507.8,161.3 509.8,161.3 511.9,161.2 513.9,161.2 515.9,161.2 517.9,161.2 519.9,161.1 521.9,161.1 523.9,161.1 525.9,161.0 527.9,161.0 529.9,161.0 532.0,160.9 534.0,160.8 536.0,160.8 538.0,160.7 540.0,160.7 542.0,160.6" fill="none" stroke="#f84848" stroke-width="2.4" stroke-linejoin="round"/><polyline points="341.0,118.2 343.0,118.2 345.0,118.3 347.0,118.4 349.0,118.5 351.1,118.7 353.1,118.9 355.1,119.1 357.1,119.4 359.1,119.7 361.1,119.9 363.1,120.2 365.1,120.5 367.1,120.8 369.1,121.2 371.1,121.6 373.2,122.1 375.2,122.6 377.2,123.1 379.2,123.8 381.2,124.4 383.2,125.1 385.2,125.8 387.2,126.5 389.2,127.3 391.2,128.1 393.3,128.9 395.3,129.9 397.3,130.9 399.3,132.1 401.3,133.2 403.3,134.5 405.3,135.7 407.3,137.0 409.3,138.2 411.4,139.4 413.4,140.6 415.4,141.7 417.4,142.9 419.4,144.0 421.4,145.2 423.4,146.3 425.4,147.4 427.4,148.6 429.4,149.7 431.4,150.8 433.5,152.0 435.5,153.2 437.5,154.4 439.5,155.4 441.5,156.3 443.5,157.0 445.5,157.7 447.5,158.4 449.5,159.0 451.5,159.5 453.6,159.8 455.6,160.0 457.6,160.2 459.6,160.4 461.6,160.5 463.6,160.6 465.6,160.7 467.6,160.8 469.6,160.9 471.6,160.9 473.7,161.0 475.7,161.0 477.7,161.1 479.7,161.1 481.7,161.1 483.7,161.2 485.7,161.2 487.7,161.2 489.7,161.2 491.8,161.3 493.8,161.3 495.8,161.3 497.8,161.3 499.8,161.3 501.8,161.3 503.8,161.3 505.8,161.3 507.8,161.3 509.8,161.3 511.9,161.2 513.9,161.2 515.9,161.2 517.9,161.2 519.9,161.1 521.9,161.1 523.9,161.1 525.9,161.0 527.9,161.0 529.9,161.0 532.0,160.9 534.0,160.8 536.0,160.8 538.0,160.7 540.0,160.7 542.0,160.6" fill="none" stroke="#ffc0c0" stroke-width="0.95" stroke-linejoin="round"/>
<polyline points="341.0,103.4 343.0,103.5 345.0,103.6 347.0,103.7 349.0,103.9 351.0,104.2 353.0,104.4 355.0,104.7 357.0,105.0 359.0,105.4 361.0,105.7 363.0,106.1 365.0,106.5 367.0,106.8 369.0,107.3 371.0,107.8 373.0,108.3 375.0,108.9 377.0,109.5 379.0,110.2 381.0,111.0 383.0,111.8 385.0,112.6 387.0,113.4 389.0,114.3 391.0,115.2 393.0,116.2 395.0,117.4 397.0,118.6 399.0,120.0 401.0,121.5 403.0,123.0 405.0,124.4 407.0,125.8 409.0,127.2 411.0,128.5 413.0,129.9 415.0,131.2 417.0,132.6 419.0,134.1 421.0,135.7 422.9,137.3 424.8,138.9 426.6,140.6 428.5,142.3 430.4,143.9 432.3,145.6 434.1,147.3 436.0,148.9 437.9,150.5 439.9,152.0 441.9,153.3 443.9,154.6 445.9,155.8 447.9,156.8 449.9,157.5 451.9,158.0 453.9,158.5 455.9,158.9 457.9,159.2 460.0,159.5 462.0,159.8 464.0,159.9 466.0,160.0 468.0,160.1 470.0,160.2 472.0,160.3 474.0,160.4 476.0,160.4 478.0,160.5 480.0,160.5 482.0,160.6 484.0,160.6 486.0,160.7 488.0,160.7 490.0,160.7 492.0,160.8 494.0,160.8 496.0,160.8 498.0,160.8 500.0,160.8 502.0,160.8 504.0,160.8 506.0,160.8 508.0,160.8 510.0,160.8 512.0,160.7 514.0,160.7 516.0,160.7 518.0,160.7 520.0,160.6 522.0,160.6 524.0,160.6 526.0,160.5 528.0,160.5 530.0,160.4 532.0,160.4 534.0,160.3 536.0,160.2 538.0,160.2 540.0,160.1 542.0,160.0" fill="none" stroke="#f84040" stroke-width="2.4" stroke-linejoin="round"/><polyline points="341.0,103.4 343.0,103.5 345.0,103.6 347.0,103.7 349.0,103.9 351.0,104.2 353.0,104.4 355.0,104.7 357.0,105.0 359.0,105.4 361.0,105.7 363.0,106.1 365.0,106.5 367.0,106.8 369.0,107.3 371.0,107.8 373.0,108.3 375.0,108.9 377.0,109.5 379.0,110.2 381.0,111.0 383.0,111.8 385.0,112.6 387.0,113.4 389.0,114.3 391.0,115.2 393.0,116.2 395.0,117.4 397.0,118.6 399.0,120.0 401.0,121.5 403.0,123.0 405.0,124.4 407.0,125.8 409.0,127.2 411.0,128.5 413.0,129.9 415.0,131.2 417.0,132.6 419.0,134.1 421.0,135.7 422.9,137.3 424.8,138.9 426.6,140.6 428.5,142.3 430.4,143.9 432.3,145.6 434.1,147.3 436.0,148.9 437.9,150.5 439.9,152.0 441.9,153.3 443.9,154.6 445.9,155.8 447.9,156.8 449.9,157.5 451.9,158.0 453.9,158.5 455.9,158.9 457.9,159.2 460.0,159.5 462.0,159.8 464.0,159.9 466.0,160.0 468.0,160.1 470.0,160.2 472.0,160.3 474.0,160.4 476.0,160.4 478.0,160.5 480.0,160.5 482.0,160.6 484.0,160.6 486.0,160.7 488.0,160.7 490.0,160.7 492.0,160.8 494.0,160.8 496.0,160.8 498.0,160.8 500.0,160.8 502.0,160.8 504.0,160.8 506.0,160.8 508.0,160.8 510.0,160.8 512.0,160.7 514.0,160.7 516.0,160.7 518.0,160.7 520.0,160.6 522.0,160.6 524.0,160.6 526.0,160.5 528.0,160.5 530.0,160.4 532.0,160.4 534.0,160.3 536.0,160.2 538.0,160.2 540.0,160.1 542.0,160.0" fill="none" stroke="#ff9a9a" stroke-width="0.8" stroke-linejoin="round"/>
<polyline points="341.0,87.7 343.0,87.8 345.0,87.9 347.0,88.2 349.0,88.4 351.0,88.7 353.0,89.1 355.0,89.4 357.0,89.8 359.0,90.2 361.0,90.6 363.0,91.2 365.0,91.8 367.0,92.5 369.0,93.3 371.0,94.1 373.0,94.9 375.0,95.8 377.0,96.7 379.0,97.8 381.0,98.9 383.0,100.0 385.0,101.3 387.0,102.6 389.0,104.0 391.0,105.5 392.9,107.1 394.8,108.7 396.7,110.3 398.7,111.9 400.6,113.5 402.6,115.0 404.6,116.6 406.6,118.1 408.6,119.5 410.6,120.9 412.6,122.2 414.6,123.5 416.6,124.7 418.6,125.9 420.6,127.0 422.6,128.0 424.6,128.9 426.6,129.8 428.6,130.9 430.6,132.3 432.4,134.0 434.2,135.8 435.8,137.6 437.5,139.5 439.3,141.3 441.0,143.1 442.6,145.0 444.3,146.8 446.0,148.6 448.0,150.1 450.0,151.3 452.0,152.3 454.0,153.2 456.0,153.9 458.0,154.6 460.0,155.1 462.0,155.5 464.0,155.9 466.0,156.2 468.0,156.5 470.0,156.8 472.0,157.1 474.0,157.3 476.0,157.5 478.0,157.7 480.0,157.8 482.0,157.9 484.0,158.0 486.0,158.1 488.0,158.2 490.0,158.3 492.0,158.4 494.0,158.4 496.0,158.5 498.0,158.5 500.0,158.5 502.0,158.5 504.0,158.5 506.0,158.5 508.0,158.5 510.0,158.5 512.0,158.5 514.0,158.5 516.0,158.5 518.0,158.5 520.0,158.4 522.0,158.4 524.0,158.4 526.0,158.4 528.0,158.4 530.0,158.3 532.0,158.3 534.0,158.2 536.0,158.2 538.0,158.1 540.0,158.1 542.0,158.0" fill="none" stroke="#858585" stroke-width="2.4" stroke-linejoin="round"/><polyline points="341.0,87.7 343.0,87.8 345.0,87.9 347.0,88.2 349.0,88.4 351.0,88.7 353.0,89.1 355.0,89.4 357.0,89.8 359.0,90.2 361.0,90.6 363.0,91.2 365.0,91.8 367.0,92.5 369.0,93.3 371.0,94.1 373.0,94.9 375.0,95.8 377.0,96.7 379.0,97.8 381.0,98.9 383.0,100.0 385.0,101.3 387.0,102.6 389.0,104.0 391.0,105.5 392.9,107.1 394.8,108.7 396.7,110.3 398.7,111.9 400.6,113.5 402.6,115.0 404.6,116.6 406.6,118.1 408.6,119.5 410.6,120.9 412.6,122.2 414.6,123.5 416.6,124.7 418.6,125.9 420.6,127.0 422.6,128.0 424.6,128.9 426.6,129.8 428.6,130.9 430.6,132.3 432.4,134.0 434.2,135.8 435.8,137.6 437.5,139.5 439.3,141.3 441.0,143.1 442.6,145.0 444.3,146.8 446.0,148.6 448.0,150.1 450.0,151.3 452.0,152.3 454.0,153.2 456.0,153.9 458.0,154.6 460.0,155.1 462.0,155.5 464.0,155.9 466.0,156.2 468.0,156.5 470.0,156.8 472.0,157.1 474.0,157.3 476.0,157.5 478.0,157.7 480.0,157.8 482.0,157.9 484.0,158.0 486.0,158.1 488.0,158.2 490.0,158.3 492.0,158.4 494.0,158.4 496.0,158.5 498.0,158.5 500.0,158.5 502.0,158.5 504.0,158.5 506.0,158.5 508.0,158.5 510.0,158.5 512.0,158.5 514.0,158.5 516.0,158.5 518.0,158.5 520.0,158.4 522.0,158.4 524.0,158.4 526.0,158.4 528.0,158.4 530.0,158.3 532.0,158.3 534.0,158.2 536.0,158.2 538.0,158.1 540.0,158.1 542.0,158.0" fill="none" stroke="#dcdcdc" stroke-width="0.95" stroke-linejoin="round"/>
<polyline points="341.0,73.1 341.7,73.1 342.4,73.1 343.1,73.1 343.8,73.2 344.5,73.2 345.2,73.2 345.9,73.3 346.6,73.3 347.3,73.4 348.0,73.4 348.7,73.5 349.4,73.5 350.1,73.6 350.8,73.7 351.5,73.7 352.2,73.8 352.9,73.9 353.6,74.0 354.3,74.1 355.0,74.2 355.7,74.3 356.4,74.4 357.1,74.5 357.8,74.6 358.5,74.7 359.2,74.8 359.9,74.9 360.6,75.1 361.3,75.3 362.0,75.5 362.7,75.7 363.4,75.9 364.1,76.2 364.8,76.5 365.5,76.8 366.2,77.0 366.9,77.4 367.6,77.7 368.3,78.0 369.0,78.3 369.7,78.7 370.4,79.0 371.1,79.4 371.8,79.7 372.5,80.1 373.2,80.4 373.9,80.8 374.6,81.2 375.3,81.5 376.0,82.0 376.7,82.4 377.4,82.8 378.1,83.3 378.8,83.8 379.5,84.3 380.2,84.8 380.9,85.4 381.6,86.0 382.3,86.6 383.0,87.3 383.7,88.1 384.4,88.9 385.1,89.8 385.8,90.7 386.5,91.7 387.2,92.7 387.9,93.8 388.6,94.8 389.3,95.9 390.0,97.0 390.7,98.3 391.4,99.6 392.1,101.0 392.8,102.3 393.5,103.5 394.2,104.5 394.9,105.4 395.6,106.3 396.3,107.1 397.0,107.9 397.7,108.6 398.4,109.3 399.1,109.9 399.8,110.4 400.5,110.8 401.2,111.2 401.9,111.6 402.6,112.0 403.3,112.3 404.0,112.6 404.7,112.9 405.4,113.2 406.1,113.4 406.8,113.7 407.5,113.9 408.2,114.1 408.9,114.2 409.6,114.4 410.3,114.5 411.0,114.7 411.7,114.8 412.4,114.9 413.1,115.0 413.8,115.1 414.5,115.2 415.2,115.3 415.9,115.4 416.6,115.5 417.3,115.6 418.0,115.7 418.7,115.9 419.4,116.0 420.1,116.1 420.8,116.3 421.5,116.4 422.2,116.6 422.9,116.7 423.6,116.8 424.3,117.0 425.0,117.2 425.7,117.3 426.4,117.5 427.1,117.7 427.8,117.9 428.5,118.2 429.2,118.4 429.9,118.7 430.6,119.0 431.3,119.4 432.0,119.8 432.7,120.2 433.4,120.7 434.1,121.2 434.8,121.8 435.5,122.4 436.2,123.0 436.9,123.6 437.6,124.3 438.3,125.0 439.0,125.8 439.7,126.6 440.4,127.6 441.1,128.7 441.9,129.9 442.6,131.1 443.3,132.4 444.0,133.6 444.7,134.8 445.4,135.9 446.1,137.1 446.8,138.3 447.5,139.6 448.2,140.8 448.9,141.9 449.6,143.0 450.3,144.0 451.0,144.8 451.7,145.6 452.4,146.3 453.1,147.1 453.8,147.8 454.5,148.4 455.2,149.0 455.9,149.6 456.6,150.2 457.3,150.6 458.0,151.1 458.7,151.4 459.4,151.8 460.1,152.1 460.8,152.3 461.5,152.6 462.2,152.9 462.9,153.1 463.6,153.4 464.3,153.6 465.0,153.8 465.7,154.1 466.4,154.3 467.1,154.5 467.8,154.6 468.5,154.8 469.2,155.0 469.9,155.1 470.6,155.3 471.3,155.4 472.0,155.6 472.7,155.7 473.4,155.8 474.1,155.9 474.8,156.0 475.5,156.1 476.2,156.1 476.9,156.2 477.6,156.3 478.3,156.4 479.0,156.5 479.7,156.5 480.4,156.6 481.1,156.7 481.8,156.8 482.5,156.8 483.2,156.9 483.9,157.0 484.6,157.0 485.3,157.1 486.0,157.1 486.7,157.2 487.4,157.2 488.1,157.3 488.8,157.3 489.5,157.4 490.2,157.4 490.9,157.4 491.6,157.4 492.3,157.5 493.0,157.5 493.7,157.5 494.4,157.5 495.1,157.5 495.8,157.5 496.5,157.5 497.2,157.5 497.9,157.5 498.6,157.5 499.3,157.5 500.0,157.5 500.7,157.5 501.4,157.5 502.1,157.5 502.8,157.5 503.5,157.5 504.2,157.5 504.9,157.4 505.6,157.4 506.3,157.4 507.0,157.4 507.7,157.4 508.4,157.4 509.1,157.4 509.8,157.4 510.5,157.4 511.2,157.4 511.9,157.3 512.6,157.3 513.3,157.3 514.0,157.3 514.7,157.3 515.4,157.3 516.1,157.3 516.8,157.3 517.5,157.2 518.2,157.2 518.9,157.2 519.6,157.2 520.3,157.2 521.0,157.2 521.7,157.2 522.4,157.1 523.1,157.1 523.8,157.1 524.5,157.1 525.2,157.0 525.9,157.0 526.6,157.0 527.3,156.9 528.0,156.9 528.7,156.9 529.4,156.8 530.1,156.8 530.8,156.8 531.5,156.7 532.2,156.7 532.9,156.6 533.6,156.6 534.3,156.5 535.0,156.5 535.7,156.5 536.4,156.4 537.1,156.4 537.8,156.3 538.5,156.3 539.2,156.2 539.9,156.2 540.6,156.1 541.3,156.1 542.0,156.0" fill="none" stroke="none" marker-start="url(#mb)" marker-mid="url(#mb)" marker-end="url(#mb)"/><polyline points="341.0,73.1 343.0,73.1 345.0,73.2 347.0,73.3 349.0,73.5 351.0,73.7 353.0,73.9 355.0,74.2 357.0,74.5 359.0,74.8 361.1,75.2 363.1,75.8 365.1,76.6 367.1,77.4 369.1,78.4 371.1,79.3 373.1,80.3 375.1,81.4 377.1,82.6 379.1,84.0 381.1,85.5 382.9,87.2 384.6,89.1 386.1,91.1 387.5,93.1 388.9,95.2 390.2,97.4 391.4,99.6 392.6,101.8 393.8,104.0 395.4,105.9 397.0,107.9 398.8,109.6 400.8,111.0 402.8,112.1 404.8,113.0 406.8,113.7 408.8,114.2 410.8,114.6 412.8,114.9 414.8,115.2 416.8,115.5 418.8,115.9 420.8,116.3 422.8,116.7 424.8,117.1 426.8,117.6 428.8,118.3 430.9,119.1 432.9,120.3 434.8,121.8 436.7,123.4 438.5,125.2 440.1,127.1 441.5,129.2 442.7,131.4 443.9,133.6 445.2,135.7 446.5,137.9 447.7,140.1 449.0,142.2 450.5,144.3 452.2,146.1 453.9,147.9 455.8,149.6 457.8,151.0 459.8,151.9 461.8,152.7 463.8,153.5 465.8,154.1 467.8,154.7 469.8,155.1 471.8,155.5 473.8,155.8 475.8,156.1 477.8,156.3 479.8,156.6 481.8,156.8 483.9,157.0 485.9,157.1 487.9,157.3 489.9,157.4 491.9,157.5 493.9,157.5 495.9,157.5 497.9,157.5 499.9,157.5 501.9,157.5 503.9,157.5 505.9,157.4 507.9,157.4 509.9,157.4 511.9,157.3 513.9,157.3 515.9,157.3 517.9,157.2 519.9,157.2 521.9,157.2 524.0,157.1 526.0,157.0 528.0,156.9 530.0,156.8 532.0,156.7 534.0,156.6 536.0,156.4 538.0,156.3 540.0,156.1 542.0,156.0" fill="none" stroke="#c4c4ff" stroke-width="0.85" stroke-linejoin="round"/>
<polyline points="341.0,57.5 341.7,57.5 342.4,57.5 343.1,57.6 343.8,57.6 344.5,57.6 345.2,57.7 345.9,57.7 346.6,57.8 347.3,57.8 348.0,57.8 348.7,57.9 349.4,57.9 350.1,58.0 350.8,58.0 351.5,58.1 352.2,58.2 352.9,58.2 353.6,58.3 354.3,58.3 355.0,58.4 355.7,58.5 356.4,58.5 357.1,58.6 357.8,58.7 358.5,58.7 359.2,58.8 359.9,58.9 360.6,59.0 361.3,59.1 362.0,59.2 362.7,59.3 363.4,59.4 364.1,59.5 364.8,59.6 365.5,59.8 366.2,59.9 366.9,60.1 367.6,60.3 368.3,60.5 369.0,60.7 369.7,61.0 370.4,61.3 371.1,61.6 371.8,61.9 372.5,62.3 373.2,62.6 373.9,63.0 374.6,63.4 375.3,63.9 376.0,64.3 376.7,64.8 377.4,65.2 378.1,65.8 378.8,66.4 379.5,67.1 380.2,67.9 380.9,68.7 381.6,69.7 382.3,70.6 383.0,71.6 383.7,72.7 384.4,73.7 385.1,74.8 385.8,75.9 386.5,77.1 387.2,78.4 387.9,79.8 388.6,81.3 389.3,82.8 390.0,84.3 390.7,85.8 391.4,87.2 392.1,88.5 392.8,89.9 393.5,91.3 394.2,92.7 394.9,94.0 395.6,95.3 396.3,96.5 397.0,97.6 397.7,98.6 398.4,99.4 399.1,100.3 399.8,101.1 400.5,101.9 401.2,102.6 401.9,103.2 402.6,103.7 403.3,104.2 404.0,104.5 404.7,104.8 405.4,105.1 406.1,105.3 406.8,105.5 407.5,105.7 408.2,105.9 408.9,106.1 409.6,106.2 410.3,106.4 411.0,106.5 411.7,106.6 412.4,106.8 413.1,106.9 413.8,107.0 414.5,107.0 415.2,107.1 415.9,107.2 416.6,107.3 417.3,107.4 418.0,107.5 418.7,107.6 419.4,107.7 420.1,107.8 420.8,108.0 421.5,108.1 422.2,108.2 422.9,108.4 423.6,108.5 424.3,108.7 425.0,108.9 425.7,109.0 426.4,109.2 427.1,109.4 427.8,109.6 428.5,109.9 429.2,110.1 429.9,110.4 430.6,110.6 431.3,111.0 432.0,111.3 432.7,111.7 433.4,112.1 434.1,112.5 434.8,112.9 435.5,113.4 436.2,113.9 436.9,114.5 437.6,115.0 438.3,115.6 439.0,116.2 439.7,116.9 440.4,117.8 441.1,118.7 441.9,119.6 442.6,120.7 443.3,121.8 444.0,123.0 444.7,124.1 445.4,125.4 446.1,126.9 446.8,128.5 447.5,130.2 448.2,131.9 448.9,133.5 449.6,134.9 450.3,136.2 451.0,137.5 451.7,138.8 452.4,140.0 453.1,141.2 453.8,142.3 454.5,143.3 455.2,144.1 455.9,144.9 456.6,145.5 457.3,146.2 458.0,146.8 458.7,147.4 459.4,147.9 460.1,148.4 460.8,148.9 461.5,149.3 462.2,149.7 462.9,150.0 463.6,150.3 464.3,150.6 465.0,150.9 465.7,151.1 466.4,151.4 467.1,151.6 467.8,151.8 468.5,152.0 469.2,152.2 469.9,152.4 470.6,152.6 471.3,152.8 472.0,153.0 472.7,153.1 473.4,153.3 474.1,153.4 474.8,153.6 475.5,153.7 476.2,153.8 476.9,154.0 477.6,154.1 478.3,154.2 479.0,154.3 479.7,154.4 480.4,154.6 481.1,154.7 481.8,154.8 482.5,154.9 483.2,155.0 483.9,155.1 484.6,155.3 485.3,155.4 486.0,155.5 486.7,155.6 487.4,155.7 488.1,155.8 488.8,155.9 489.5,156.0 490.2,156.0 490.9,156.1 491.6,156.2 492.3,156.2 493.0,156.2 493.7,156.3 494.4,156.3 495.1,156.3 495.8,156.3 496.5,156.3 497.2,156.3 497.9,156.3 498.6,156.3 499.3,156.3 500.0,156.3 500.7,156.3 501.4,156.3 502.1,156.3 502.8,156.3 503.5,156.3 504.2,156.3 504.9,156.2 505.6,156.2 506.3,156.2 507.0,156.2 507.7,156.2 508.4,156.2 509.1,156.2 509.8,156.2 510.5,156.2 511.2,156.2 511.9,156.2 512.6,156.1 513.3,156.1 514.0,156.1 514.7,156.1 515.4,156.1 516.1,156.1 516.8,156.1 517.5,156.1 518.2,156.0 518.9,156.0 519.6,156.0 520.3,156.0 521.0,156.0 521.7,156.0 522.4,155.9 523.1,155.9 523.8,155.9 524.5,155.8 525.2,155.8 525.9,155.8 526.6,155.7 527.3,155.7 528.0,155.7 528.7,155.6 529.4,155.6 530.1,155.5 530.8,155.5 531.5,155.4 532.2,155.4 532.9,155.3 533.6,155.3 534.3,155.2 535.0,155.1 535.7,155.1 536.4,155.0 537.1,155.0 537.8,154.9 538.5,154.8 539.2,154.8 539.9,154.7 540.6,154.6 541.3,154.6 542.0,154.5" fill="none" stroke="none" marker-start="url(#mb)" marker-mid="url(#mb)" marker-end="url(#mb)"/><polyline points="341.0,57.5 343.0,57.6 345.0,57.7 347.0,57.8 349.0,57.9 351.1,58.1 353.1,58.2 355.1,58.4 357.1,58.6 359.1,58.8 361.1,59.0 363.1,59.3 365.1,59.7 367.1,60.1 369.1,60.8 371.2,61.6 373.2,62.6 375.2,63.8 377.2,65.1 379.1,66.7 380.8,68.6 382.3,70.6 383.7,72.6 385.1,74.7 386.4,76.9 387.6,79.1 388.7,81.4 389.7,83.6 390.8,85.9 391.9,88.2 393.1,90.4 394.2,92.6 395.4,94.9 396.6,97.0 398.1,99.1 399.7,101.0 401.5,102.8 403.4,104.2 405.5,105.1 407.5,105.7 409.5,106.2 411.5,106.6 413.5,106.9 415.5,107.2 417.5,107.4 419.5,107.7 421.5,108.1 423.6,108.5 425.6,109.0 427.6,109.6 429.6,110.2 431.6,111.1 433.6,112.2 435.6,113.5 437.6,115.0 439.5,116.7 441.1,118.6 442.5,120.6 443.8,122.8 445.1,125.0 446.2,127.2 447.2,129.5 448.1,131.9 449.2,134.1 450.3,136.4 451.5,138.6 452.8,140.8 454.2,142.9 455.8,144.8 457.6,146.5 459.6,148.1 461.6,149.4 463.6,150.4 465.6,151.1 467.6,151.8 469.6,152.4 471.6,152.9 473.6,153.3 475.7,153.7 477.7,154.1 479.7,154.4 481.7,154.8 483.7,155.1 485.7,155.4 487.7,155.7 489.7,156.0 491.7,156.2 493.7,156.3 495.8,156.3 497.8,156.3 499.8,156.3 501.8,156.3 503.8,156.3 505.8,156.2 507.8,156.2 509.8,156.2 511.8,156.2 513.9,156.1 515.9,156.1 517.9,156.0 519.9,156.0 521.9,155.9 523.9,155.9 525.9,155.8 527.9,155.7 529.9,155.5 531.9,155.4 534.0,155.2 536.0,155.1 538.0,154.9 540.0,154.7 542.0,154.5" fill="none" stroke="#c4c4ff" stroke-width="0.85" stroke-linejoin="round"/>
<polyline points="341.0,43.3 341.7,43.3 342.4,43.3 343.1,43.3 343.8,43.3 344.5,43.3 345.2,43.4 345.9,43.4 346.6,43.4 347.3,43.4 348.0,43.5 348.7,43.5 349.4,43.5 350.1,43.6 350.8,43.6 351.5,43.7 352.2,43.7 352.9,43.8 353.6,43.8 354.3,43.8 355.0,43.9 355.7,43.9 356.4,44.0 357.1,44.0 357.8,44.1 358.5,44.1 359.2,44.2 359.9,44.2 360.6,44.3 361.3,44.4 362.0,44.4 362.7,44.5 363.4,44.6 364.1,44.7 364.8,44.8 365.5,44.9 366.2,45.0 366.9,45.1 367.6,45.2 368.3,45.3 369.0,45.4 369.7,45.5 370.4,45.7 371.1,45.8 371.8,46.0 372.5,46.2 373.2,46.4 373.9,46.6 374.6,46.9 375.3,47.2 376.0,47.4 376.7,47.8 377.4,48.1 378.1,48.5 378.8,48.8 379.5,49.3 380.2,49.7 380.9,50.1 381.6,50.6 382.3,51.1 383.0,51.7 383.7,52.4 384.4,53.2 385.1,54.2 385.8,55.2 386.5,56.4 387.2,57.6 387.9,58.9 388.6,60.3 389.3,62.0 390.0,64.1 390.7,66.3 391.4,68.6 392.1,70.9 392.8,73.1 393.5,75.2 394.2,77.5 394.9,79.7 395.6,81.9 396.3,83.8 397.0,85.5 397.7,86.9 398.4,88.2 399.1,89.5 399.8,90.6 400.5,91.7 401.2,92.6 401.9,93.3 402.6,93.9 403.3,94.4 404.0,94.8 404.7,95.3 405.4,95.7 406.1,96.0 406.8,96.3 407.5,96.6 408.2,96.9 408.9,97.2 409.6,97.4 410.3,97.6 411.0,97.8 411.7,98.0 412.4,98.1 413.1,98.2 413.8,98.4 414.5,98.5 415.2,98.6 415.9,98.7 416.6,98.8 417.3,98.9 418.0,99.0 418.7,99.1 419.4,99.3 420.1,99.4 420.8,99.6 421.5,99.8 422.2,99.9 422.9,100.1 423.6,100.3 424.3,100.5 425.0,100.7 425.7,100.9 426.4,101.1 427.1,101.3 427.8,101.5 428.5,101.8 429.2,102.1 429.9,102.3 430.6,102.6 431.3,102.9 432.0,103.2 432.7,103.6 433.4,103.9 434.1,104.3 434.8,104.8 435.5,105.2 436.2,105.7 436.9,106.2 437.6,106.8 438.3,107.4 439.0,108.0 439.7,108.7 440.4,109.3 441.1,110.0 441.9,110.8 442.6,111.7 443.3,112.7 444.0,113.7 444.7,114.9 445.4,116.1 446.1,117.4 446.8,118.7 447.5,120.1 448.2,121.7 448.9,123.6 449.6,125.5 450.3,127.4 451.0,129.3 451.7,131.0 452.4,132.5 453.1,133.9 453.8,135.4 454.5,136.8 455.2,138.1 455.9,139.3 456.6,140.4 457.3,141.4 458.0,142.3 458.7,143.0 459.4,143.8 460.1,144.4 460.8,145.1 461.5,145.7 462.2,146.2 462.9,146.7 463.6,147.2 464.3,147.6 465.0,148.0 465.7,148.3 466.4,148.7 467.1,149.0 467.8,149.3 468.5,149.6 469.2,149.9 469.9,150.1 470.6,150.4 471.3,150.7 472.0,150.9 472.7,151.1 473.4,151.4 474.1,151.6 474.8,151.8 475.5,152.0 476.2,152.1 476.9,152.3 477.6,152.5 478.3,152.6 479.0,152.8 479.7,152.9 480.4,153.1 481.1,153.2 481.8,153.3 482.5,153.5 483.2,153.6 483.9,153.7 484.6,153.9 485.3,154.0 486.0,154.1 486.7,154.2 487.4,154.3 488.1,154.4 488.8,154.5 489.5,154.6 490.2,154.7 490.9,154.8 491.6,154.8 492.3,154.9 493.0,154.9 493.7,155.0 494.4,155.0 495.1,155.0 495.8,155.0 496.5,155.0 497.2,155.0 497.9,155.0 498.6,155.0 499.3,155.0 500.0,155.0 500.7,155.0 501.4,155.0 502.1,155.0 502.8,155.0 503.5,155.0 504.2,155.0 504.9,154.9 505.6,154.9 506.3,154.9 507.0,154.9 507.7,154.9 508.4,154.9 509.1,154.9 509.8,154.9 510.5,154.9 511.2,154.9 511.9,154.9 512.6,154.8 513.3,154.8 514.0,154.8 514.7,154.8 515.4,154.8 516.1,154.8 516.8,154.8 517.5,154.8 518.2,154.7 518.9,154.7 519.6,154.7 520.3,154.7 521.0,154.7 521.7,154.7 522.4,154.6 523.1,154.6 523.8,154.6 524.5,154.5 525.2,154.5 525.9,154.5 526.6,154.4 527.3,154.4 528.0,154.3 528.7,154.3 529.4,154.2 530.1,154.2 530.8,154.1 531.5,154.0 532.2,154.0 532.9,153.9 533.6,153.9 534.3,153.8 535.0,153.7 535.7,153.7 536.4,153.6 537.1,153.5 537.8,153.4 538.5,153.4 539.2,153.3 539.9,153.2 540.6,153.2 541.3,153.1 542.0,153.0" fill="none" stroke="none" marker-start="url(#mb)" marker-mid="url(#mb)" marker-end="url(#mb)"/><polyline points="341.0,43.3 343.0,43.3 345.0,43.4 347.0,43.4 349.0,43.5 351.0,43.6 353.0,43.8 355.0,43.9 357.0,44.0 359.0,44.2 361.0,44.3 363.0,44.6 365.0,44.8 367.0,45.1 369.0,45.4 371.0,45.8 373.0,46.3 375.0,47.0 377.0,47.9 379.0,49.0 381.0,50.2 383.0,51.7 384.7,53.6 386.1,55.6 387.3,57.8 388.5,60.0 389.4,62.3 390.2,64.7 391.0,67.1 391.7,69.5 392.4,71.9 393.2,74.3 394.0,76.6 394.7,79.0 395.5,81.4 396.3,83.8 397.3,86.1 398.5,88.3 399.7,90.5 401.2,92.5 403.0,94.2 405.0,95.4 407.0,96.4 409.0,97.2 411.0,97.8 413.0,98.2 415.0,98.5 417.0,98.9 419.0,99.2 421.0,99.6 423.0,100.1 425.0,100.7 427.1,101.3 429.1,102.0 431.1,102.8 433.1,103.7 435.1,104.9 437.1,106.3 439.0,107.9 440.8,109.7 442.4,111.5 443.9,113.6 445.1,115.7 446.3,117.9 447.5,120.2 448.4,122.5 449.3,124.8 450.2,127.2 451.1,129.5 452.0,131.8 453.1,134.1 454.2,136.3 455.4,138.5 456.7,140.7 458.3,142.6 460.0,144.4 461.9,146.0 463.9,147.4 465.9,148.4 467.9,149.4 469.9,150.2 471.9,150.9 473.9,151.5 475.9,152.1 477.9,152.6 479.9,153.0 481.9,153.4 483.9,153.7 485.9,154.1 487.9,154.4 489.9,154.7 491.9,154.9 493.9,155.0 496.0,155.0 498.0,155.0 500.0,155.0 502.0,155.0 504.0,155.0 506.0,154.9 508.0,154.9 510.0,154.9 512.0,154.9 514.0,154.8 516.0,154.8 518.0,154.7 520.0,154.7 522.0,154.6 524.0,154.6 526.0,154.5 528.0,154.3 530.0,154.2 532.0,154.0 534.0,153.8 536.0,153.6 538.0,153.4 540.0,153.2 542.0,153.0" fill="none" stroke="#c4c4ff" stroke-width="0.85" stroke-linejoin="round"/>
<polyline points="341.0,29.1 341.7,29.1 342.4,29.1 343.1,29.1 343.8,29.1 344.5,29.1 345.2,29.2 345.9,29.2 346.6,29.2 347.3,29.2 348.0,29.2 348.7,29.3 349.4,29.3 350.1,29.3 350.8,29.4 351.5,29.4 352.2,29.4 352.9,29.5 353.6,29.5 354.3,29.6 355.0,29.6 355.7,29.7 356.4,29.7 357.1,29.7 357.8,29.8 358.5,29.8 359.2,29.9 359.9,29.9 360.6,30.0 361.3,30.1 362.0,30.2 362.7,30.2 363.4,30.3 364.1,30.4 364.8,30.5 365.5,30.6 366.2,30.7 366.9,30.8 367.6,31.0 368.3,31.1 369.0,31.2 369.7,31.3 370.4,31.5 371.1,31.6 371.8,31.8 372.5,31.9 373.2,32.1 373.9,32.3 374.6,32.5 375.3,32.7 376.0,33.0 376.7,33.2 377.4,33.5 378.1,33.7 378.8,34.0 379.5,34.3 380.2,34.6 380.9,35.0 381.6,35.3 382.3,35.7 383.0,36.1 383.7,36.6 384.4,37.1 385.1,37.7 385.8,38.4 386.5,39.1 387.2,39.9 387.9,40.7 388.6,41.7 389.3,42.7 390.0,43.9 390.7,45.6 391.4,47.5 392.1,49.6 392.8,51.8 393.5,54.1 394.2,56.8 394.9,59.7 395.6,62.6 396.3,65.5 397.0,68.7 397.7,71.8 398.4,74.6 399.1,76.7 399.8,78.6 400.5,80.2 401.2,81.8 401.9,83.1 402.6,84.2 403.3,85.1 404.0,85.8 404.7,86.4 405.4,86.9 406.1,87.4 406.8,87.8 407.5,88.2 408.2,88.6 408.9,88.9 409.6,89.2 410.3,89.5 411.0,89.7 411.7,89.9 412.4,90.1 413.1,90.3 413.8,90.5 414.5,90.6 415.2,90.8 415.9,90.9 416.6,91.1 417.3,91.2 418.0,91.4 418.7,91.5 419.4,91.7 420.1,91.8 420.8,92.0 421.5,92.2 422.2,92.3 422.9,92.5 423.6,92.6 424.3,92.8 425.0,93.0 425.7,93.2 426.4,93.3 427.1,93.5 427.8,93.7 428.5,93.9 429.2,94.2 429.9,94.4 430.6,94.7 431.3,95.0 432.0,95.3 432.7,95.6 433.4,95.9 434.1,96.3 434.8,96.6 435.5,97.0 436.2,97.4 436.9,97.9 437.6,98.3 438.3,98.8 439.0,99.3 439.7,99.8 440.4,100.3 441.1,100.9 441.8,101.5 442.5,102.2 443.2,102.9 443.9,103.7 444.6,104.6 445.3,105.5 446.0,106.6 446.7,107.9 447.4,109.7 448.1,111.7 448.8,113.9 449.5,116.1 450.2,118.3 450.9,120.2 451.6,122.2 452.3,124.1 453.0,126.0 453.7,127.8 454.4,129.4 455.1,131.0 455.8,132.7 456.5,134.2 457.2,135.7 457.9,137.0 458.6,138.1 459.3,139.0 460.0,139.8 460.7,140.6 461.4,141.3 462.1,141.9 462.8,142.6 463.5,143.1 464.2,143.7 464.9,144.2 465.6,144.7 466.3,145.1 467.0,145.5 467.7,146.0 468.4,146.4 469.1,146.8 469.8,147.2 470.5,147.6 471.3,148.0 472.0,148.3 472.7,148.7 473.4,149.0 474.1,149.4 474.8,149.7 475.5,150.0 476.2,150.3 476.9,150.5 477.6,150.8 478.3,151.0 479.0,151.2 479.7,151.4 480.4,151.6 481.1,151.8 481.8,151.9 482.5,152.1 483.2,152.3 483.9,152.4 484.6,152.6 485.3,152.8 486.0,152.9 486.7,153.1 487.4,153.2 488.1,153.3 488.8,153.4 489.5,153.5 490.2,153.6 490.9,153.7 491.6,153.8 492.3,153.9 493.0,153.9 493.7,154.0 494.4,154.0 495.1,154.0 495.8,154.0 496.5,154.0 497.2,154.0 497.9,154.0 498.6,154.0 499.3,154.0 500.0,154.0 500.7,154.0 501.4,154.0 502.1,154.0 502.8,154.0 503.5,153.9 504.2,153.9 504.9,153.9 505.6,153.9 506.3,153.9 507.0,153.9 507.7,153.9 508.4,153.9 509.1,153.9 509.8,153.8 510.5,153.8 511.2,153.8 511.9,153.8 512.6,153.8 513.3,153.8 514.0,153.8 514.7,153.7 515.4,153.7 516.1,153.7 516.8,153.7 517.5,153.7 518.2,153.6 518.9,153.6 519.6,153.6 520.3,153.6 521.0,153.6 521.7,153.5 522.4,153.5 523.1,153.5 523.8,153.4 524.5,153.4 525.2,153.3 525.9,153.3 526.6,153.2 527.3,153.2 528.0,153.1 528.7,153.1 529.4,153.0 530.1,152.9 530.8,152.9 531.5,152.8 532.2,152.7 532.9,152.6 533.6,152.6 534.3,152.5 535.0,152.4 535.7,152.3 536.4,152.2 537.1,152.1 537.8,152.0 538.5,152.0 539.2,151.9 539.9,151.8 540.6,151.7 541.3,151.6 542.0,151.5" fill="none" stroke="none" marker-start="url(#mbf)" marker-mid="url(#mbf)" marker-end="url(#mbf)"/>
<polyline points="341.0,14.5 341.7,14.5 342.4,14.5 343.1,14.5 343.8,14.5 344.5,14.5 345.2,14.5 345.9,14.5 346.6,14.5 347.3,14.6 348.0,14.6 348.7,14.6 349.4,14.6 350.1,14.6 350.8,14.6 351.5,14.7 352.2,14.7 352.9,14.7 353.6,14.7 354.3,14.7 355.0,14.8 355.7,14.8 356.4,14.8 357.1,14.8 357.8,14.9 358.5,14.9 359.2,14.9 359.9,15.0 360.6,15.0 361.3,15.1 362.0,15.1 362.7,15.2 363.4,15.3 364.1,15.4 364.8,15.4 365.5,15.5 366.2,15.6 366.9,15.7 367.6,15.8 368.3,15.9 369.0,16.1 369.7,16.2 370.4,16.3 371.1,16.4 371.8,16.5 372.5,16.7 373.2,16.8 373.9,17.0 374.6,17.1 375.3,17.3 376.0,17.5 376.7,17.7 377.4,17.9 378.1,18.1 378.8,18.4 379.5,18.6 380.2,18.9 380.9,19.1 381.6,19.4 382.3,19.7 383.0,20.0 383.7,20.4 384.4,20.8 385.1,21.3 385.8,21.8 386.5,22.4 387.2,23.0 387.9,23.6 388.6,24.3 389.3,25.1 390.0,25.9 390.7,26.9 391.4,28.0 392.1,29.2 392.8,30.6 393.5,32.3 394.2,34.7 394.9,37.5 395.6,40.7 396.2,43.8 396.6,47.0 397.0,50.1 397.4,53.3 397.9,56.5 398.2,59.7 398.7,62.8 399.2,66.0 399.9,68.5 400.6,70.4 401.3,72.0 402.0,73.1 402.7,73.9 403.4,74.5 404.1,75.0 404.8,75.5 405.5,75.9 406.2,76.2 406.9,76.5 407.6,76.8 408.3,77.1 409.0,77.3 409.7,77.6 410.4,77.8 411.1,78.0 411.8,78.2 412.5,78.4 413.2,78.5 413.9,78.7 414.6,78.8 415.3,79.0 416.0,79.1 416.7,79.2 417.4,79.3 418.1,79.4 418.8,79.5 419.5,79.6 420.2,79.7 420.9,79.8 421.6,79.9 422.3,80.0 423.0,80.1 423.7,80.2 424.4,80.3 425.1,80.4 425.8,80.5 426.5,80.7 427.2,80.8 427.9,80.9 428.6,81.0 429.3,81.2 430.0,81.3 430.7,81.5 431.4,81.7 432.1,81.9 432.8,82.1 433.5,82.3 434.2,82.6 434.9,83.0 435.6,83.3 436.3,83.7 437.0,84.1 437.7,84.5 438.4,85.0 439.1,85.5 439.8,86.0 440.5,86.6 441.2,87.3 441.9,88.0 442.6,88.8 443.3,89.6 444.0,90.5 444.7,91.5 445.4,92.6 446.1,93.7 446.8,95.0 447.5,96.3 448.2,97.8 448.9,99.3 449.6,100.9 450.3,102.8 451.0,104.9 451.7,107.4 452.4,110.2 453.1,113.0 453.8,116.1 454.5,119.2 455.2,122.1 455.9,124.3 456.6,126.2 457.3,128.0 458.0,129.6 458.7,131.1 459.4,132.4 460.1,133.6 460.8,134.7 461.5,135.7 462.2,136.7 462.9,137.6 463.6,138.4 464.3,139.2 465.0,139.9 465.7,140.6 466.4,141.3 467.1,141.9 467.8,142.5 468.5,143.1 469.2,143.6 469.9,144.2 470.6,144.7 471.3,145.2 472.0,145.8 472.7,146.2 473.4,146.7 474.1,147.2 474.8,147.6 475.5,148.0 476.2,148.4 476.9,148.7 477.6,149.1 478.3,149.4 479.0,149.7 479.7,149.9 480.4,150.1 481.1,150.3 481.8,150.5 482.5,150.7 483.2,151.0 483.9,151.2 484.6,151.3 485.3,151.5 486.0,151.7 486.7,151.9 487.4,152.0 488.1,152.2 488.8,152.3 489.5,152.5 490.2,152.6 490.9,152.7 491.6,152.8 492.3,152.9 493.0,152.9 493.7,153.0 494.4,153.0 495.1,153.0 495.8,153.0 496.5,153.0 497.2,153.0 497.9,153.0 498.6,153.0 499.3,153.0 500.0,153.0 500.7,153.0 501.4,153.0 502.1,153.0 502.8,152.9 503.5,152.9 504.2,152.9 504.9,152.9 505.6,152.9 506.3,152.9 507.0,152.9 507.7,152.9 508.4,152.8 509.1,152.8 509.8,152.8 510.5,152.8 511.2,152.8 511.9,152.8 512.6,152.7 513.3,152.7 514.0,152.7 514.7,152.7 515.4,152.7 516.1,152.6 516.8,152.6 517.5,152.6 518.2,152.6 518.9,152.5 519.6,152.5 520.3,152.5 521.0,152.5 521.7,152.4 522.4,152.4 523.1,152.3 523.8,152.3 524.5,152.2 525.2,152.2 525.9,152.1 526.6,152.1 527.3,152.0 528.0,151.9 528.7,151.9 529.4,151.8 530.1,151.7 530.8,151.6 531.5,151.5 532.2,151.4 532.9,151.3 533.6,151.3 534.3,151.2 535.0,151.1 535.7,151.0 536.4,150.9 537.1,150.8 537.8,150.6 538.5,150.5 539.2,150.4 539.9,150.3 540.6,150.2 541.3,150.1 542.0,150.0" fill="none" stroke="none" marker-start="url(#mb)" marker-mid="url(#mb)" marker-end="url(#mb)"/><polyline points="341.0,14.5 343.0,14.5 345.0,14.5 347.0,14.6 349.0,14.6 351.0,14.6 353.0,14.7 355.0,14.8 357.0,14.8 359.0,14.9 361.0,15.0 363.1,15.2 365.1,15.5 367.1,15.8 369.1,16.1 371.1,16.4 373.1,16.8 375.1,17.3 377.1,17.8 379.1,18.5 381.1,19.2 383.1,20.1 385.1,21.3 387.1,22.9 388.9,24.6 390.5,26.5 391.8,28.6 392.9,30.9 393.8,33.2 394.5,35.6 395.0,38.1 395.6,40.5 396.0,43.0 396.4,45.5 396.8,47.9 397.1,50.4 397.4,52.9 397.7,55.4 398.0,57.9 398.3,60.4 398.7,62.9 399.0,65.3 399.7,67.8 400.5,70.1 401.5,72.4 403.2,74.3 405.1,75.7 407.1,76.7 409.1,77.4 411.2,78.0 413.2,78.5 415.2,79.0 417.2,79.3 419.2,79.6 421.2,79.8 423.2,80.1 425.2,80.4 427.2,80.8 429.2,81.1 431.2,81.6 433.2,82.2 435.2,83.1 437.2,84.2 439.2,85.6 441.1,87.2 442.8,89.0 444.4,91.0 445.7,93.1 447.0,95.3 448.1,97.5 449.1,99.8 450.0,102.1 450.9,104.5 451.6,106.9 452.2,109.3 452.8,111.8 453.4,114.2 453.9,116.7 454.4,119.1 455.0,121.5 455.7,123.9 456.6,126.3 457.5,128.6 458.6,130.9 459.8,133.1 461.1,135.2 462.6,137.2 464.2,139.1 466.0,140.9 467.9,142.6 469.8,144.1 471.8,145.6 473.8,147.0 475.8,148.2 477.8,149.2 479.8,150.0 481.9,150.6 483.9,151.1 485.9,151.7 487.9,152.2 489.9,152.5 491.9,152.8 493.9,153.0 495.9,153.0 497.9,153.0 499.9,153.0 501.9,153.0 503.9,152.9 505.9,152.9 507.9,152.8 509.9,152.8 511.9,152.8 513.9,152.7 515.9,152.6 517.9,152.6 519.9,152.5 522.0,152.4 524.0,152.3 526.0,152.1 528.0,151.9 530.0,151.7 532.0,151.5 534.0,151.2 536.0,150.9 538.0,150.6 540.0,150.3 542.0,150.0" fill="none" stroke="#c4c4ff" stroke-width="0.85" stroke-linejoin="round"/>
<rect x="341" y="14.5" width="200.79999999999995" height="148.0" fill="none" stroke="#8a8a8a" stroke-width="0.9"/>
<line x1="337.4" y1="162.5" x2="341.0" y2="162.5" stroke="#8a8a8a" stroke-width="0.8" />
<line x1="339.0" y1="147.7" x2="341.0" y2="147.7" stroke="#8a8a8a" stroke-width="0.8" />
<line x1="337.4" y1="132.9" x2="341.0" y2="132.9" stroke="#8a8a8a" stroke-width="0.8" />
<line x1="339.0" y1="118.1" x2="341.0" y2="118.1" stroke="#8a8a8a" stroke-width="0.8" />
<line x1="337.4" y1="103.3" x2="341.0" y2="103.3" stroke="#8a8a8a" stroke-width="0.8" />
<line x1="339.0" y1="88.5" x2="341.0" y2="88.5" stroke="#8a8a8a" stroke-width="0.8" />
<line x1="337.4" y1="73.7" x2="341.0" y2="73.7" stroke="#8a8a8a" stroke-width="0.8" />
<line x1="339.0" y1="58.9" x2="341.0" y2="58.9" stroke="#8a8a8a" stroke-width="0.8" />
<line x1="337.4" y1="44.1" x2="341.0" y2="44.1" stroke="#8a8a8a" stroke-width="0.8" />
<line x1="339.0" y1="29.3" x2="341.0" y2="29.3" stroke="#8a8a8a" stroke-width="0.8" />
<line x1="337.4" y1="14.5" x2="341.0" y2="14.5" stroke="#8a8a8a" stroke-width="0.8" />
<line x1="341.0" y1="162.5" x2="341.0" y2="165.9" stroke="#8a8a8a" stroke-width="0.8" />
<line x1="366.1" y1="162.5" x2="366.1" y2="164.5" stroke="#8a8a8a" stroke-width="0.8" />
<line x1="391.2" y1="162.5" x2="391.2" y2="165.9" stroke="#8a8a8a" stroke-width="0.8" />
<line x1="416.3" y1="162.5" x2="416.3" y2="164.5" stroke="#8a8a8a" stroke-width="0.8" />
<line x1="441.4" y1="162.5" x2="441.4" y2="165.9" stroke="#8a8a8a" stroke-width="0.8" />
<line x1="466.5" y1="162.5" x2="466.5" y2="164.5" stroke="#8a8a8a" stroke-width="0.8" />
<line x1="491.6" y1="162.5" x2="491.6" y2="165.9" stroke="#8a8a8a" stroke-width="0.8" />
<line x1="516.7" y1="162.5" x2="516.7" y2="164.5" stroke="#8a8a8a" stroke-width="0.8" />
<line x1="541.8" y1="162.5" x2="541.8" y2="165.9" stroke="#8a8a8a" stroke-width="0.8" />
<text x="335.6" y="165.1" font-size="7.2" fill="#5a5a5a" text-anchor="end" font-family="'Liberation Sans', sans-serif" >0.0</text>
<text x="335.6" y="135.5" font-size="7.2" fill="#5a5a5a" text-anchor="end" font-family="'Liberation Sans', sans-serif" >0.4</text>
<text x="335.6" y="105.9" font-size="7.2" fill="#5a5a5a" text-anchor="end" font-family="'Liberation Sans', sans-serif" >0.8</text>
<text x="335.6" y="76.3" font-size="7.2" fill="#5a5a5a" text-anchor="end" font-family="'Liberation Sans', sans-serif" >1.2</text>
<text x="335.6" y="46.7" font-size="7.2" fill="#5a5a5a" text-anchor="end" font-family="'Liberation Sans', sans-serif" >1.6</text>
<text x="335.6" y="17.1" font-size="7.2" fill="#5a5a5a" text-anchor="end" font-family="'Liberation Sans', sans-serif" >2.0</text>
<text x="339.5" y="173.8" font-size="7.4" fill="#5a5a5a" text-anchor="middle" font-family="'Liberation Sans', sans-serif" >−1.0</text>
<text x="389.7" y="173.8" font-size="7.4" fill="#5a5a5a" text-anchor="middle" font-family="'Liberation Sans', sans-serif" >−0.5</text>
<text x="441.4" y="173.8" font-size="7.4" fill="#5a5a5a" text-anchor="middle" font-family="'Liberation Sans', sans-serif" >0.0</text>
<text x="491.6" y="173.8" font-size="7.4" fill="#5a5a5a" text-anchor="middle" font-family="'Liberation Sans', sans-serif" >0.5</text>
<text x="541.8" y="173.8" font-size="7.4" fill="#5a5a5a" text-anchor="middle" font-family="'Liberation Sans', sans-serif" >1.0</text>
<text transform="translate(320,88.8) rotate(-90)" text-anchor="middle" font-size="7.8" fill="#5a5a5a" font-family="'Liberation Sans', sans-serif"><tspan font-style="italic">V</tspan><tspan font-size="5.5" dy="1.8">out</tspan><tspan dy="-1.8"> (V)</tspan></text>
<text x="442" y="185.6" text-anchor="middle" font-size="7.8" fill="#5a5a5a" font-family="'Liberation Sans', sans-serif"><tspan font-style="italic">V</tspan><tspan font-size="5.5" dy="1.8">in</tspan><tspan dy="-1.8"> (V)</tspan></text>
<text x="404.7" y="24.6" font-size="7.2" fill="#5a5a5a" font-family="'Liberation Sans', sans-serif" textLength="20.6" lengthAdjust="spacingAndGlyphs">Logic 1</text>
<line x1="402.4" y1="20.4" x2="391.3" y2="20.4" stroke="#222" stroke-width="0.9" /><polygon points="387.8,20.4 391.3,19.0 391.3,21.8" fill="#222" />
<text x="403.6" y="67.9" font-size="7.2" fill="#5a5a5a" font-family="'Liberation Sans', sans-serif" textLength="37.8" lengthAdjust="spacingAndGlyphs">Middle logic</text>
<line x1="423.7" y1="69.5" x2="423.7" y2="75.1" stroke="#222" stroke-width="0.9" /><polygon points="423.7,78.3 422.4,75.1 425.0,75.1" fill="#222" />
<text x="505.0" y="144.7" font-size="7.2" fill="#5a5a5a" font-family="'Liberation Sans', sans-serif" textLength="21.4" lengthAdjust="spacingAndGlyphs">Logic 0</text>
<line x1="505.6" y1="146.8" x2="502.8" y2="150.2" stroke="#222" stroke-width="0.9" /><polygon points="500.8,152.7 501.8,149.4 503.8,151.0" fill="#222" />
<text x="300.4" y="18.5" font-size="28" fill="#000" font-weight="bold" font-family="'Liberation Serif', serif" >b</text>
<line x1="468.0" y1="19.2" x2="468.0" y2="110.7" stroke="#8a8a8a" stroke-width="0.9" />
<line x1="468.0" y1="110.7" x2="541.8" y2="110.7" stroke="#8a8a8a" stroke-width="0.9" />
<line x1="468.0" y1="110.7" x2="471.0" y2="110.7" stroke="#8a8a8a" stroke-width="0.8" />
<text x="465.0" y="113.2" font-size="7" fill="#5a5a5a" text-anchor="end" font-family="'Liberation Sans', sans-serif" >0</text>
<line x1="468.0" y1="87.8" x2="471.0" y2="87.8" stroke="#8a8a8a" stroke-width="0.8" />
<text x="465.0" y="90.3" font-size="7" fill="#5a5a5a" text-anchor="end" font-family="'Liberation Sans', sans-serif" >1</text>
<line x1="468.0" y1="64.9" x2="471.0" y2="64.9" stroke="#8a8a8a" stroke-width="0.8" />
<text x="465.0" y="67.4" font-size="7" fill="#5a5a5a" text-anchor="end" font-family="'Liberation Sans', sans-serif" >2</text>
<line x1="468.0" y1="42.0" x2="471.0" y2="42.0" stroke="#8a8a8a" stroke-width="0.8" />
<text x="465.0" y="44.5" font-size="7" fill="#5a5a5a" text-anchor="end" font-family="'Liberation Sans', sans-serif" >3</text>
<line x1="468.0" y1="19.1" x2="471.0" y2="19.1" stroke="#8a8a8a" stroke-width="0.8" />
<text x="465.0" y="21.6" font-size="7" fill="#5a5a5a" text-anchor="end" font-family="'Liberation Sans', sans-serif" >4</text>
<line x1="468.0" y1="99.2" x2="469.8" y2="99.2" stroke="#8a8a8a" stroke-width="0.7" />
<line x1="468.0" y1="76.4" x2="469.8" y2="76.4" stroke="#8a8a8a" stroke-width="0.7" />
<line x1="468.0" y1="53.5" x2="469.8" y2="53.5" stroke="#8a8a8a" stroke-width="0.7" />
<line x1="468.0" y1="30.6" x2="469.8" y2="30.6" stroke="#8a8a8a" stroke-width="0.7" />
<line x1="481.8" y1="110.7" x2="481.8" y2="107.7" stroke="#8a8a8a" stroke-width="0.8" />
<text x="480.8" y="119.5" font-size="7" fill="#5a5a5a" text-anchor="middle" font-family="'Liberation Sans', sans-serif" >−1</text>
<line x1="511.1" y1="110.7" x2="511.1" y2="107.7" stroke="#8a8a8a" stroke-width="0.8" />
<text x="511.1" y="119.5" font-size="7" fill="#5a5a5a" text-anchor="middle" font-family="'Liberation Sans', sans-serif" >0</text>
<line x1="540.4" y1="110.7" x2="540.4" y2="107.7" stroke="#8a8a8a" stroke-width="0.8" />
<text x="540.4" y="119.5" font-size="7" fill="#5a5a5a" text-anchor="middle" font-family="'Liberation Sans', sans-serif" >1</text>
<line x1="496.4" y1="110.7" x2="496.4" y2="108.9" stroke="#8a8a8a" stroke-width="0.7" />
<line x1="525.7" y1="110.7" x2="525.7" y2="108.9" stroke="#8a8a8a" stroke-width="0.7" />
<text transform="translate(456,66) rotate(-90)" text-anchor="middle" font-size="7" fill="#5a5a5a" font-family="'Liberation Sans', sans-serif"><tspan font-style="italic">V</tspan><tspan font-size="5" dy="1.6">out</tspan><tspan dy="-1.6"> (V)</tspan></text>
<text x="503.5" y="127" text-anchor="middle" font-size="7" fill="#5a5a5a" font-family="'Liberation Sans', sans-serif"><tspan font-style="italic">V</tspan><tspan font-size="5" dy="1.6">in</tspan><tspan dy="-1.6"> (V)</tspan></text>
<line x1="485.8" y1="104.6" x2="485.8" y2="37.5" stroke="#9a9a9a" stroke-width="1.3" /><polygon points="485.8,33.5 487.5,37.5 484.1,37.5" fill="#9a9a9a" />
<polyline points="468.0,19.2 468.9,19.2 469.8,19.2 470.8,19.2 471.7,19.3 472.6,19.3 473.5,19.3 474.5,19.4 475.4,19.4 476.3,19.5 477.2,19.5 478.1,19.6 479.1,19.6 480.0,19.7 480.9,19.9 481.8,20.1 482.7,20.3 483.7,20.6 484.6,21.0 485.5,21.4 486.4,21.9 487.4,22.5 488.3,23.4 489.2,24.5 490.1,25.7 491.0,27.2 492.0,29.1 492.9,31.6 493.8,34.0 494.7,35.7 495.6,37.2 496.6,38.5 497.5,39.4 498.4,39.9 499.3,40.3 500.3,40.6 501.2,40.8 502.1,41.0 503.0,41.1 503.9,41.2 504.9,41.2 505.8,41.3 506.7,41.3 507.6,41.3 508.5,41.4 509.5,41.4 510.4,41.4 511.3,41.5 512.2,41.6 513.2,41.7 514.1,41.8 515.0,42.1 515.9,42.6 516.8,43.2 517.8,43.9 518.7,45.0 519.6,47.0 520.5,49.5 521.4,52.3 522.4,55.9 523.3,60.3 524.2,64.5 525.1,67.9 526.1,71.1 527.0,73.9 527.9,76.3 528.8,78.2 529.7,79.9 530.7,81.5 531.6,83.0 532.5,84.4 533.4,85.9 534.3,87.5 535.3,88.9 536.2,90.2 537.1,91.2 538.0,92.0 539.0,92.8 539.9,93.4 540.8,93.8" fill="none" stroke="#3030f0" stroke-width="1.1" stroke-linejoin="round"/>
<polyline points="468.0,42.2 468.9,42.2 469.8,42.2 470.8,42.2 471.7,42.3 472.6,42.3 473.5,42.4 474.5,42.5 475.4,42.5 476.3,42.6 477.2,42.7 478.1,42.8 479.1,42.9 480.0,43.0 480.9,43.1 481.8,43.3 482.7,43.4 483.7,43.7 484.6,44.0 485.5,44.4 486.4,44.9 487.4,45.4 488.3,45.9 489.2,46.5 490.1,47.3 491.0,48.3 492.0,49.3 492.9,50.4 493.8,51.3 494.7,52.2 495.6,53.1 496.6,53.9 497.5,54.7 498.4,55.5 499.3,56.0 500.3,56.4 501.2,56.6 502.1,56.8 503.0,57.0 503.9,57.1 504.9,57.3 505.8,57.4 506.7,57.6 507.6,57.7 508.5,57.7 509.5,57.8 510.4,57.9 511.3,58.0 512.2,58.1 513.2,58.3 514.1,58.5 515.0,58.7 515.9,59.4 516.8,60.4 517.8,61.7 518.7,63.6 519.6,66.7 520.5,70.3 521.4,73.7 522.4,77.6 523.3,81.6 524.2,85.2 525.1,87.8 526.1,90.1 527.0,92.1 527.9,93.8 528.8,95.2 529.7,96.2 530.7,97.1 531.6,97.8 532.5,98.5 533.4,98.9 534.3,99.2 535.3,99.5 536.2,99.6 537.1,99.7 538.0,99.7 539.0,99.5 539.9,99.3 540.8,99.0" fill="none" stroke="#f03030" stroke-width="1.1" stroke-linejoin="round"/>
<polyline points="483.0,87.8 483.6,87.8 484.1,87.8 484.7,87.8 485.2,87.8 485.8,87.8 486.3,87.8 486.9,87.8 487.5,87.8 488.0,87.9 488.6,87.9 489.1,87.9 489.7,87.9 490.2,87.9 490.8,88.0 491.4,88.0 491.9,88.0 492.5,88.0 493.0,88.1 493.6,88.1 494.1,88.1 494.7,88.2 495.3,88.2 495.8,88.2 496.4,88.3 496.9,88.5 497.5,88.7 498.0,88.9 498.6,89.2 499.2,89.5 499.7,89.8 500.3,90.2 500.8,90.8 501.4,91.7 501.9,92.7 502.5,93.8 503.1,95.0 503.6,96.4 504.2,98.0 504.7,100.0 505.3,101.9 505.8,103.7 506.4,105.1 506.9,106.4 507.5,107.7 508.1,108.7 508.6,109.4 509.2,109.7 509.7,109.9 510.3,110.1 510.8,110.2 511.4,110.3 512.0,110.4 512.5,110.5 513.1,110.5 513.6,110.5 514.2,110.5 514.7,110.5 515.3,110.5 515.9,110.5 516.4,110.5 517.0,110.5 517.5,110.6 518.1,110.6 518.6,110.6 519.2,110.6 519.8,110.6 520.3,110.6 520.9,110.6 521.4,110.6 522.0,110.6 522.5,110.6 523.1,110.6 523.7,110.6 524.2,110.6 524.8,110.6 525.3,110.6 525.9,110.6 526.4,110.6 527.0,110.6" fill="none" stroke="#333" stroke-width="1.0" stroke-linejoin="round"/>
<polyline points="483.0,97.2 483.6,97.2 484.1,97.2 484.7,97.2 485.2,97.2 485.8,97.3 486.3,97.3 486.9,97.3 487.5,97.4 488.0,97.4 488.6,97.5 489.1,97.5 489.7,97.6 490.2,97.7 490.8,97.7 491.4,97.8 491.9,97.9 492.5,98.0 493.0,98.1 493.6,98.3 494.1,98.6 494.7,98.8 495.3,99.2 495.8,99.5 496.4,99.9 496.9,100.4 497.5,101.2 498.0,102.2 498.6,103.3 499.2,104.4 499.7,105.4 500.3,106.2 500.8,107.0 501.4,107.8 501.9,108.5 502.5,109.1 503.1,109.5 503.6,109.7 504.2,109.9 504.7,110.0 505.3,110.2 505.8,110.3 506.4,110.4 506.9,110.5 507.5,110.5 508.1,110.5 508.6,110.5 509.2,110.5 509.7,110.5 510.3,110.5 510.8,110.5 511.4,110.5 512.0,110.5 512.5,110.5 513.1,110.6 513.6,110.6 514.2,110.6 514.7,110.6 515.3,110.6 515.9,110.6 516.4,110.6 517.0,110.6 517.5,110.6 518.1,110.6 518.6,110.6 519.2,110.6 519.8,110.6 520.3,110.6 520.9,110.6 521.4,110.6 522.0,110.6 522.5,110.6 523.1,110.6 523.7,110.6 524.2,110.6 524.8,110.6 525.3,110.6 525.9,110.6 526.4,110.6 527.0,110.6" fill="none" stroke="#333" stroke-width="1.0" stroke-linejoin="round"/>
<text x="469.8" y="32.3" font-size="5.8" fill="#5a5a5a" font-family="'Liberation Sans', sans-serif" textLength="21.4" lengthAdjust="spacingAndGlyphs"><tspan font-style="italic">V</tspan><tspan font-size="4.4" dy="1.4">dd</tspan><tspan dy="-1.4"> = 4 V</tspan></text>
<text x="473.0" y="50.7" font-size="6.1" fill="#5a5a5a" font-family="'Liberation Sans', sans-serif" >3 V</text>
<text x="473.0" y="90.1" font-size="6.1" fill="#5a5a5a" font-family="'Liberation Sans', sans-serif" >1 V</text>
<text x="468.8" y="99.7" font-size="6.1" fill="#5a5a5a" font-family="'Liberation Sans', sans-serif" textLength="13" lengthAdjust="spacingAndGlyphs">0.6 V</text>
<text x="506.2" y="27.8" font-size="6.4" fill="#5a5a5a" font-family="'Liberation Sans', sans-serif" textLength="31.9" lengthAdjust="spacingAndGlyphs">Middle logic</text>
<line x1="521.3" y1="32.5" x2="517.9" y2="36.1" stroke="#222" stroke-width="0.9" /><polygon points="515.9,38.3 517.0,35.2 518.9,37.0" fill="#222" />
<line x1="499.7" y1="43.6" x2="512.7" y2="43.6" stroke="#2020f0" stroke-width="1" /><polygon points="497.2,43.6 500.4,42.1 500.4,45.1" fill="#2020f0" /><polygon points="515.2,43.6 512.0,42.1 512.0,45.1" fill="#2020f0" />
<text x="506.0" y="50.8" font-size="6.6" fill="#2020f0" text-anchor="middle" font-family="'Liberation Sans', sans-serif" >0.8 V</text>
<line x1="505.8" y1="60.3" x2="513.6" y2="60.3" stroke="#f02020" stroke-width="1" /><polygon points="503.3,60.3 506.5,58.8 506.5,61.8" fill="#f02020" /><polygon points="516.1,60.3 512.9,58.8 512.9,61.8" fill="#f02020" />
<text x="509.0" y="68.4" font-size="6.6" fill="#f02020" text-anchor="middle" font-family="'Liberation Sans', sans-serif" >0.6 V</text>
<defs>
<pattern id="pRe" width="3.2" height="3.2" patternUnits="userSpaceOnUse" patternTransform="translate(28,300) skewX(-14)"><rect width="3.2" height="3.2" fill="#77808c"/><circle cx="0.8" cy="0.8" r="0.95" fill="#e8d820"/><circle cx="2.4" cy="2.4" r="0.95" fill="#1c3ca8"/><circle cx="2.4" cy="0.8" r="0.55" fill="#2a48a0"/><circle cx="0.8" cy="2.4" r="0.55" fill="#d8cc30"/></pattern>
<pattern id="pW" width="3.4" height="3.4" patternUnits="userSpaceOnUse" patternTransform="translate(140,300) skewX(8)"><rect width="3.4" height="3.4" fill="#d8c8dc"/><circle cx="0.85" cy="0.85" r="0.95" fill="#e6189c"/><circle cx="2.55" cy="2.55" r="0.95" fill="#18b848"/><circle cx="2.55" cy="0.85" r="0.5" fill="#30c060"/><circle cx="0.85" cy="2.55" r="0.5" fill="#e040b0"/></pattern>
<pattern id="pM" width="3.3" height="3.3" patternUnits="userSpaceOnUse" patternTransform="translate(109,294)"><rect width="3.3" height="3.3" fill="#a89cae"/><circle cx="0.8" cy="0.8" r="0.95" fill="#e6189c"/><circle cx="2.5" cy="2.5" r="0.95" fill="#18b848"/><circle cx="2.5" cy="0.8" r="0.6" fill="#d8cc30"/><circle cx="0.8" cy="2.5" r="0.6" fill="#2a48a0"/></pattern>
<linearGradient id="gPill" x1="0" y1="0" x2="1" y2="0"><stop offset="0" stop-color="#eeea30"/><stop offset="0.6" stop-color="#e2dc1c"/><stop offset="1" stop-color="#b8b414"/></linearGradient>
</defs>
<polygon points="34.0,264.0 208.0,264.0 224.0,305.0 17.6,305.0" fill="#b9afe6" />
<polygon points="17.6,305.0 224.0,305.0 223.8,316.0 17.8,316.0" fill="#a79cdc" />
<polygon points="17.8,316.0 223.8,316.0 222.4,330.5 21.0,330.5" fill="#858585" />
<polygon points="17.8,316.0 223.8,316.0 223.6,318.0 18.2,318.0" fill="#8f8f90" />
<polygon points="37.3,263.5 134.4,263.5 134.4,299.5 28.4,299.5" fill="url(#pRe)" />
<polygon points="134.4,258.0 209.4,258.5 221.0,299.8 140.7,299.8 134.4,292.0" fill="url(#pW)" />
<polygon points="109.0,253.2 134.4,253.2 134.4,294.5 109.0,294.5" fill="url(#pM)" />
<polygon points="109.0,287.0 134.4,287.0 134.4,294.5 109.0,294.5" fill="url(#pRe)" stroke="none" opacity="0.75"/>
<line x1="58.6" y1="260.2" x2="51.4" y2="285.8" stroke="#9c9a12" stroke-width="12.8" stroke-linecap="round"/><line x1="58" y1="258" x2="50.8" y2="283.2" stroke="#dfdb16" stroke-width="12.200000000000001" stroke-linecap="round"/><line x1="57.0" y1="258" x2="49.8" y2="282.2" stroke="#e6e224" stroke-width="6.800000000000001" stroke-linecap="round"/>
<line x1="80.39999999999999" y1="260.2" x2="74.3" y2="285.8" stroke="#9c9a12" stroke-width="12.8" stroke-linecap="round"/><line x1="79.8" y1="258" x2="73.7" y2="283.2" stroke="#dfdb16" stroke-width="12.200000000000001" stroke-linecap="round"/><line x1="78.8" y1="258" x2="72.7" y2="282.2" stroke="#e6e224" stroke-width="6.800000000000001" stroke-linecap="round"/>
<line x1="163.6" y1="260.7" x2="169.2" y2="284.90000000000003" stroke="#9c9a12" stroke-width="12.2" stroke-linecap="round"/><line x1="163" y1="258.5" x2="168.6" y2="282.3" stroke="#dfdb16" stroke-width="11.6" stroke-linecap="round"/><line x1="162.0" y1="258.5" x2="167.6" y2="281.3" stroke="#e6e224" stroke-width="6.199999999999999" stroke-linecap="round"/>
<line x1="186.6" y1="259.7" x2="195.0" y2="284.6" stroke="#9c9a12" stroke-width="12.2" stroke-linecap="round"/><line x1="186" y1="257.5" x2="194.4" y2="282" stroke="#dfdb16" stroke-width="11.6" stroke-linecap="round"/><line x1="185.0" y1="257.5" x2="193.4" y2="281" stroke="#e6e224" stroke-width="6.199999999999999" stroke-linecap="round"/>
<line x1="47.7" y1="237.5" x2="50.8" y2="247.7" stroke="#111" stroke-width="1.15" /><polygon points="52.3,252.9 48.5,248.4 53.0,247.1" fill="#111" />
<line x1="49.5" y1="237.5" x2="68.3" y2="251.5" stroke="#111" stroke-width="1.15" /><polygon points="72.6,254.7 66.9,253.4 69.7,249.6" fill="#111" />
<line x1="96.8" y1="243.8" x2="96.8" y2="256.4" stroke="#111" stroke-width="1.15" /><polygon points="96.8,261.8 94.5,256.4 99.1,256.4" fill="#111" />
<line x1="143.3" y1="244.5" x2="143.3" y2="252.1" stroke="#111" stroke-width="1.15" /><polygon points="143.3,257.5 141.0,252.1 145.6,252.1" fill="#111" />
<line x1="184.0" y1="238.5" x2="172.9" y2="247.3" stroke="#111" stroke-width="1.15" /><polygon points="168.7,250.7 171.5,245.5 174.4,249.2" fill="#111" />
<line x1="187.8" y1="238.5" x2="187.1" y2="245.3" stroke="#111" stroke-width="1.15" /><polygon points="186.5,250.7 184.7,245.1 189.4,245.6" fill="#111" />
<line x1="235.0" y1="301.4" x2="229.4" y2="306.0" stroke="#111" stroke-width="1.15" /><polygon points="225.2,309.4 227.9,304.2 230.8,307.8" fill="#111" />
<line x1="235.0" y1="329.5" x2="229.7" y2="327.0" stroke="#111" stroke-width="1.15" /><polygon points="224.8,324.7 230.7,324.9 228.7,329.1" fill="#111" />
<text x="30.0" y="235.2" font-size="12.6" fill="#000" font-family="'Liberation Sans', sans-serif" stroke="#000" stroke-width="0.3">Cr/Au</text>
<text x="86.5" y="240.3" font-size="12.3" fill="#000" stroke="#000" stroke-width="0.3" font-family="'Liberation Sans', sans-serif" text-anchor="start">ReS<tspan font-size="8.4" dy="2.6">2</tspan></text>
<text x="130.5" y="240.3" font-size="12.3" fill="#000" stroke="#000" stroke-width="0.3" font-family="'Liberation Sans', sans-serif" text-anchor="start">WSe<tspan font-size="8.4" dy="2.6">2</tspan></text>
<text x="184.0" y="235.2" font-size="12.5" fill="#000" font-family="'Liberation Sans', sans-serif" stroke="#000" stroke-width="0.3">Pd/Au</text>
<text x="238.6" y="298.2" font-size="12.3" fill="#000" stroke="#000" stroke-width="0.3" font-family="'Liberation Sans', sans-serif" text-anchor="start">SiO<tspan font-size="8.4" dy="2.6">2</tspan></text>
<text x="238.3" y="310.6" font-size="12.4" fill="#000" font-family="'Liberation Sans', sans-serif" stroke="#000" stroke-width="0.3">(t=90nm)</text>
<text x="239.5" y="340.5" font-size="12.4" fill="#000" font-family="'Liberation Sans', sans-serif" stroke="#000" stroke-width="0.3">Si</text>
<text x="208.6" y="355.0" font-size="12.6" fill="#000" font-family="'Liberation Sans', sans-serif" stroke="#000" stroke-width="0.3">(Bottom gate)</text>
<text x="14.9" y="215.5" font-size="28" fill="#000" font-weight="bold" font-family="'Liberation Serif', serif" >c</text>
<rect x="431" y="236.6" width="58.7" height="16" fill="#2db9d8"/>
<rect x="431" y="251.5" width="28.5" height="8.9" fill="#e8202a"/>
<rect x="455" y="246" width="15" height="6.5" fill="#e8202a"/>
<rect x="459.3" y="252.5" width="30.4" height="7.9" fill="#2563b4"/>
<rect x="431" y="260.3" width="58.7" height="7.2" fill="#8fa9dc"/>
<rect x="431" y="267.4" width="58.7" height="9.4" fill="#a3a3a3"/>
<rect x="444.8" y="228.6" width="33.2" height="8" fill="#f5e21a" stroke="#222" stroke-width="0.8"/>
<rect x="432" y="242.7" width="9.4" height="8" fill="#f5e21a" stroke="#222" stroke-width="0.8"/>
<rect x="478.8" y="242.7" width="10.5" height="8" fill="#f5e21a" stroke="#222" stroke-width="0.8"/>
<text x="461.4" y="235.6" font-size="8.6" fill="#000" text-anchor="middle" font-family="'Liberation Sans', sans-serif" >TG</text>
<text x="436.7" y="249.8" font-size="8.6" fill="#000" text-anchor="middle" font-family="'Liberation Sans', sans-serif" >S</text>
<text x="484.0" y="249.8" font-size="8.6" fill="#000" text-anchor="middle" font-family="'Liberation Sans', sans-serif" >D</text>
<text x="461.0" y="245.0" font-size="7.2" fill="#0a2a40" text-anchor="middle" font-family="'Liberation Sans', sans-serif" >h-BN</text>
<text x="445" y="258.8" font-size="7.6" fill="#fff" text-anchor="middle" font-family="'Liberation Sans', sans-serif">WSe<tspan font-size="5" dy="1.5">2</tspan></text>
<text x="475.5" y="258.8" font-size="7.6" fill="#fff" text-anchor="middle" font-family="'Liberation Sans', sans-serif">ReS<tspan font-size="5" dy="1.5">2</tspan></text>
<text x="461" y="266.6" font-size="7.2" fill="#10204a" text-anchor="middle" font-family="'Liberation Sans', sans-serif">SiO<tspan font-size="4.8" dy="1.4">2</tspan></text>
<text x="461.0" y="275.0" font-size="7.2" fill="#222" text-anchor="middle" font-family="'Liberation Sans', sans-serif" >Si (BG)</text>
<polyline points="432,247 424,247 424,252" fill="none" stroke="#111" stroke-width="1"/>
<line x1="420.4" y1="252.2" x2="427.6" y2="252.2" stroke="#111" stroke-width="1" /><line x1="421.6" y1="254.2" x2="426.4" y2="254.2" stroke="#111" stroke-width="1" /><line x1="422.8" y1="256.2" x2="425.2" y2="256.2" stroke="#111" stroke-width="1" />
<clipPath id="cd"><rect x="359" y="225.5" width="155.60000000000002" height="118.10000000000002"/></clipPath>
<g clip-path="url(#cd)"><polyline points="359.0,305.3 359.3,305.6 359.5,304.3 359.8,305.4 360.0,305.2 360.3,304.5 360.6,305.5 360.8,305.3 361.1,304.9 361.3,305.0 361.6,305.3 361.9,304.8 362.1,304.7 362.4,304.2 362.6,305.1 362.9,304.6 363.2,303.6 363.4,303.2 363.7,304.6 363.9,303.5 364.2,304.1 364.5,303.9 364.7,303.8 365.0,303.4 365.3,302.7 365.5,302.7 365.8,302.8 366.0,302.9 366.3,302.6 366.6,302.4 366.8,301.9 367.1,302.3 367.3,301.9 367.6,301.7 367.9,301.5 368.1,301.2 368.4,301.0 368.6,300.3 368.9,300.7 369.2,299.7 369.4,300.3 369.7,300.2 369.9,299.7 370.2,299.3 370.5,299.1 370.7,298.4 371.0,298.2 371.2,298.2 371.5,298.3 371.8,297.9 372.0,297.0 372.3,297.2 372.5,297.6 372.8,297.1 373.1,296.7 373.3,295.6 373.6,295.9 373.8,294.4 374.1,294.8 374.4,294.7 374.6,294.6 374.9,293.6 375.1,293.8 375.4,293.6 375.7,292.6 375.9,292.5 376.2,291.5 376.4,291.6 376.7,292.5 377.0,290.4 377.2,291.2 377.5,289.1 377.8,288.5 378.0,289.1 378.3,289.0 378.5,288.6 378.8,287.1 379.1,287.1 379.3,286.8 379.6,286.1 379.8,284.6 380.1,284.9 380.4,284.2 380.6,283.7 380.9,283.0 381.1,282.5 381.4,282.8 381.7,282.1 381.9,281.8 382.2,281.3 382.4,279.9 382.7,280.1 383.0,279.3 383.2,279.1 383.5,278.5 383.7,277.3 384.0,277.3 384.3,276.7 384.5,275.7 384.8,275.1 385.0,274.3 385.3,274.0 385.6,274.3 385.8,272.6 386.1,272.0 386.3,271.1 386.6,271.3 386.9,269.1 387.1,270.2 387.4,268.7 387.6,268.3 387.9,267.9 388.2,266.6 388.4,266.5 388.7,266.7 389.0,265.5 389.2,264.1 389.5,262.6 389.7,263.6 390.0,262.2 390.3,260.8 390.5,260.5 390.8,260.2 391.0,259.9 391.3,259.3 391.6,258.0 391.8,257.0 392.1,257.0 392.3,255.9 392.6,254.1 392.9,253.5 393.1,252.8 393.4,251.8 393.6,251.2 393.9,249.6 394.2,248.6 394.4,247.7 394.7,247.7 394.9,247.0 395.2,246.0 395.5,245.2 395.7,244.8 396.0,244.6 396.2,245.3 396.5,245.9 396.8,245.3 397.0,246.4 397.3,247.1 397.5,248.3 397.8,249.1 398.1,248.5 398.3,249.7 398.6,251.1 398.8,251.2 399.1,252.0 399.4,252.7 399.6,252.8 399.9,254.6 400.1,256.0 400.4,256.2 400.7,257.3 400.9,257.5 401.2,258.3 401.5,259.0 401.7,260.1 402.0,260.3 402.2,261.4 402.5,261.6 402.8,262.7 403.0,263.7 403.3,263.6 403.5,264.8 403.8,264.5 404.1,265.6 404.3,266.2 404.6,267.0 404.8,267.7 405.1,269.4 405.4,268.4 405.6,270.0 405.9,269.8 406.1,271.2 406.4,271.6 406.7,272.2 406.9,273.2 407.2,273.5 407.4,273.8 407.7,274.8 408.0,275.9 408.2,276.2 408.5,276.4 408.7,276.7 409.0,277.5 409.3,278.4 409.5,279.6 409.8,279.4 410.0,280.5 410.3,281.3 410.6,281.4 410.8,282.2 411.1,282.9 411.3,284.4 411.6,284.8 411.9,285.9 412.1,285.7 412.4,286.4 412.7,286.6 412.9,287.6 413.2,288.5 413.4,287.9 413.7,289.9 414.0,290.7 414.2,290.9 414.5,290.9 414.7,291.8 415.0,292.4 415.3,293.2 415.5,292.6 415.8,294.1 416.0,294.8 416.3,294.9 416.6,295.7 416.8,296.0 417.1,295.8 417.3,297.1 417.6,297.4 417.9,298.0 418.1,298.4 418.4,298.4 418.6,299.0 418.9,299.8 419.2,300.5 419.4,300.5 419.7,300.4 419.9,301.1 420.2,301.5 420.5,302.6 420.7,301.5 421.0,302.9 421.2,303.1 421.5,302.9 421.8,302.9 422.0,303.1 422.3,303.7 422.5,303.7 422.8,304.0 423.1,304.8 423.3,304.2 423.6,304.6 423.8,304.2 424.1,304.7 424.4,304.3 424.6,304.6 424.9,304.6 425.2,304.6 425.4,305.0 425.7,305.5 425.9,304.9 426.2,306.0 426.5,305.7 426.7,305.4 427.0,306.0 427.2,305.6 427.5,306.4 427.8,306.3 428.0,305.9 428.3,305.9 428.5,305.7 428.8,306.3 429.1,306.2 429.3,306.1 429.6,306.2 429.8,307.1 430.1,306.8 430.4,305.9 430.6,307.2 430.9,306.4 431.1,307.0 431.4,306.4 431.7,307.3 431.9,307.0 432.2,308.0 432.4,307.2 432.7,306.8 433.0,308.0 433.2,306.9 433.5,307.9 433.7,307.8 434.0,309.2 434.3,307.7 434.5,308.8 434.8,308.9 435.0,309.5 435.3,309.7 435.6,309.0 435.8,310.1 436.1,309.8 436.4,310.6 436.6,310.7 436.9,311.5 437.1,311.4 437.4,310.8 437.7,312.1 437.9,312.5 438.2,313.3 438.4,313.0 438.7,313.2 439.0,314.9 439.2,315.1 439.5,313.8 439.7,314.9 440.0,315.3 440.3,315.4 440.5,315.5 440.8,315.9 441.0,316.7 441.3,315.9 441.6,317.2 441.8,317.9 442.1,318.0 442.3,318.1 442.6,318.5 442.9,318.6 443.1,318.5 443.4,320.3 443.6,319.3 443.9,318.6 444.2,318.8 444.4,319.4 444.7,319.5 444.9,318.7 445.2,319.4 445.5,319.6 445.7,318.6 446.0,319.6 446.2,319.2 446.5,319.6 446.8,319.6 447.0,320.0 447.3,320.0 447.5,319.1 447.8,320.2 448.1,319.5 448.3,320.2 448.6,319.8 448.9,319.7 449.1,320.4 449.4,319.1 449.6,319.7 449.9,319.0 450.2,319.9 450.4,319.0 450.7,318.3 450.9,319.2 451.2,319.5 451.5,318.9 451.7,319.0 452.0,319.1 452.2,318.9 452.5,319.0 452.8,318.5 453.0,318.8 453.3,318.9 453.5,318.0 453.8,318.4 454.1,317.0 454.3,318.3 454.6,318.4 454.8,318.2 455.1,317.7 455.4,318.1 455.6,318.3 455.9,316.8 456.1,318.0 456.4,316.7 456.7,317.2 456.9,317.6 457.2,316.3 457.4,317.0 457.7,317.2 458.0,316.6 458.2,315.9 458.5,316.1 458.7,315.9 459.0,315.3 459.3,315.9 459.5,315.7 459.8,315.8 460.1,316.2 460.3,315.5 460.6,314.5 460.8,315.9 461.1,314.3 461.4,314.6 461.6,315.0 461.9,314.3 462.1,313.4 462.4,314.2 462.7,313.4 462.9,313.0 463.2,313.8 463.4,312.9 463.7,312.7 464.0,312.9 464.2,312.2 464.5,312.4 464.7,312.3 465.0,312.4 465.3,311.4 465.5,311.5 465.8,311.3 466.0,311.4 466.3,311.2 466.6,310.7 466.8,309.7 467.1,310.1 467.3,308.8 467.6,309.0 467.9,308.8 468.1,309.1 468.4,307.4 468.6,308.6 468.9,307.4 469.2,306.6 469.4,307.1 469.7,307.0 469.9,306.4 470.2,305.7 470.5,305.2 470.7,305.3 471.0,305.8 471.2,305.4 471.5,304.8 471.8,305.2 472.0,304.5 472.3,303.1 472.6,304.4 472.8,303.2 473.1,303.9 473.3,303.5 473.6,303.1 473.9,303.6 474.1,302.7 474.4,301.9 474.6,301.9 474.9,301.7 475.2,302.1 475.4,301.6 475.7,301.2 475.9,300.7 476.2,300.2 476.5,301.0 476.7,299.4 477.0,300.0 477.2,299.7 477.5,299.8 477.8,299.0 478.0,298.7 478.3,298.8 478.5,298.0 478.8,297.4 479.1,297.3 479.3,296.4 479.6,296.8 479.8,295.5 480.1,295.6 480.4,294.9 480.6,295.5 480.9,294.2 481.1,293.8 481.4,293.0 481.7,293.5 481.9,291.9 482.2,292.6 482.4,291.1 482.7,291.0 483.0,291.2 483.2,289.4 483.5,290.5 483.8,289.7 484.0,289.1 484.3,288.5 484.5,288.3 484.8,287.6 485.1,287.3 485.3,287.1 485.6,287.1 485.8,286.5 486.1,285.5 486.4,286.0 486.6,285.0 486.9,285.6 487.1,284.5 487.4,284.5 487.7,282.8 487.9,283.8 488.2,282.6 488.4,281.7 488.7,281.4 489.0,280.8 489.2,280.3 489.5,280.1 489.7,279.5 490.0,279.4 490.3,278.9 490.5,279.3 490.8,277.9 491.0,276.9 491.3,277.4 491.6,277.1 491.8,276.0 492.1,275.1 492.3,274.6 492.6,275.3 492.9,273.9 493.1,274.0 493.4,273.0 493.6,273.7 493.9,271.7 494.2,271.8 494.4,271.1 494.7,270.7 494.9,270.6 495.2,269.4 495.5,269.4 495.7,268.9 496.0,267.8 496.3,267.6 496.5,267.4 496.8,266.1 497.0,266.3 497.3,265.5 497.6,264.6 497.8,264.0 498.1,263.3 498.3,262.6 498.6,262.8 498.9,262.6 499.1,261.0 499.4,260.5 499.6,260.8 499.9,259.7 500.2,259.7 500.4,259.7 500.7,257.9 500.9,257.7 501.2,257.2 501.5,255.9 501.7,255.4 502.0,255.8 502.2,255.4 502.5,255.2 502.8,253.7 503.0,253.3 503.3,252.3 503.5,251.8 503.8,251.5 504.1,250.8 504.3,250.7 504.6,248.8 504.8,249.0 505.1,247.8 505.4,247.8 505.6,246.8 505.9,246.0 506.1,245.8 506.4,245.4 506.7,243.4 506.9,243.9 507.2,243.0 507.5,242.7 507.7,242.4 508.0,240.9 508.2,240.7 508.5,240.1 508.8,240.8 509.0,239.0 509.3,238.2 509.5,237.9 509.8,237.5 510.1,236.3 510.3,236.2 510.6,235.5 510.8,234.7 511.1,234.1 511.4,234.6 511.6,233.3 511.9,233.2 512.1,233.2 512.4,231.6 512.7,231.9 512.9,230.8 513.2,231.1 513.4,229.8 513.7,229.0 514.0,228.2 514.2,227.8 514.5,227.4 514.7,226.8 515.0,225.1" fill="none" stroke="#1aa6e6" stroke-width="1.4" stroke-linejoin="round"/><line x1="366.1" y1="302.7" x2="366.1" y2="307.3" stroke="#1aa6e6" stroke-width="1.2" /><line x1="374.6" y1="294.5" x2="374.6" y2="297.2" stroke="#1aa6e6" stroke-width="1.2" /><line x1="414.6" y1="291.4" x2="414.6" y2="294.5" stroke="#1aa6e6" stroke-width="1.2" /><line x1="420.8" y1="302.1" x2="420.8" y2="309.0" stroke="#1aa6e6" stroke-width="1.2" /><line x1="428.8" y1="306.3" x2="428.8" y2="318.1" stroke="#1aa6e6" stroke-width="1.2" /><line x1="443.6" y1="318.9" x2="443.6" y2="333.4" stroke="#1aa6e6" stroke-width="1.2" /><line x1="454.3" y1="318.2" x2="454.3" y2="327.7" stroke="#1aa6e6" stroke-width="1.2" /><line x1="466.0" y1="310.9" x2="466.0" y2="315.9" stroke="#1aa6e6" stroke-width="1.2" /><line x1="470.8" y1="305.5" x2="470.8" y2="310.1" stroke="#1aa6e6" stroke-width="1.2" />
<polyline points="359.0,343.1 359.3,343.1 359.6,343.1 359.9,343.1 360.2,343.1 360.6,343.1 360.9,343.1 361.2,343.0 361.5,343.0 361.8,343.0 362.1,343.0 362.4,342.9 362.7,342.9 363.1,342.9 363.4,342.8 363.7,342.8 364.0,342.7 364.3,342.7 364.6,342.6 364.9,342.6 365.2,342.6 365.6,342.5 365.9,342.5 366.2,342.4 366.5,342.4 366.8,342.3 367.1,342.3 367.4,342.2 367.7,342.1 368.0,342.1 368.4,342.0 368.7,341.9 369.0,341.8 369.3,341.7 369.6,341.7 369.9,341.6 370.2,341.5 370.5,341.4 370.9,341.3 371.2,341.2 371.5,341.0 371.8,340.9 372.1,340.8 372.4,340.7 372.7,340.6 373.0,340.4 373.3,340.3 373.7,340.2 374.0,340.0 374.3,339.9 374.6,339.7 374.9,339.6 375.2,339.4 375.5,339.2 375.8,339.0 376.2,338.8 376.5,338.6 376.8,338.4 377.1,338.1 377.4,337.8 377.7,337.6 378.0,337.3 378.3,337.0 378.7,336.7 379.0,336.3 379.3,336.0 379.6,335.6 379.9,335.3 380.2,334.9 380.5,334.5 380.8,334.1 381.1,333.6 381.5,333.2 381.8,332.7 382.1,332.2 382.4,331.7 382.7,331.1 383.0,330.4 383.3,329.6 383.6,328.8 384.0,328.0 384.3,327.1 384.6,326.2 384.9,325.2 385.2,324.3 385.5,323.3 385.8,322.3 386.1,321.4 386.4,320.4 386.8,319.5 387.1,318.5 387.4,317.6 387.7,316.6 388.0,315.6 388.3,314.6 388.6,313.5 388.9,312.4 389.3,311.2 389.6,309.9 389.9,308.6 390.2,307.1 390.5,305.4 390.8,303.7 391.1,301.8 391.4,299.9 391.8,297.8 392.1,295.7 392.4,293.2 392.7,290.5 393.0,287.5 393.3,284.5 393.6,281.4 393.9,278.5 394.2,275.8 394.6,273.4 394.9,271.3 395.2,269.0 395.5,266.8 395.8,265.2 396.1,264.3 396.4,264.5 396.7,265.8 397.1,267.7 397.4,269.9 397.7,272.1 398.0,274.1 398.3,276.3 398.6,278.6 398.9,281.0 399.2,283.5 399.6,285.9 399.9,288.4 400.2,290.8 400.5,293.1 400.8,295.3 401.1,297.4 401.4,299.3 401.7,301.2 402.0,303.1 402.4,304.9 402.7,306.6 403.0,308.2 403.3,309.7 403.6,311.1 403.9,312.5 404.2,313.9 404.5,315.1 404.9,316.4 405.2,317.6 405.5,318.7 405.8,319.8 406.1,320.9 406.4,322.0 406.7,323.1 407.0,324.2 407.3,325.3 407.7,326.3 408.0,327.3 408.3,328.3 408.6,329.2 408.9,330.1 409.2,330.9 409.5,331.6 409.8,332.2 410.2,332.7 410.5,333.3 410.8,333.8 411.1,334.2 411.4,334.7 411.7,335.2 412.0,335.6 412.3,336.0 412.7,336.4 413.0,336.8 413.3,337.2 413.6,337.5 413.9,337.8 414.2,338.1 414.5,338.4 414.8,338.7 415.1,338.9 415.5,339.1 415.8,339.3 416.1,339.5 416.4,339.7 416.7,339.8 417.0,340.0 417.3,340.1 417.6,340.2 418.0,340.4 418.3,340.5 418.6,340.7 418.9,340.8 419.2,340.9 419.5,341.0 419.8,341.1 420.1,341.2 420.4,341.4 420.8,341.5 421.1,341.6 421.4,341.6 421.7,341.7 422.0,341.8 422.3,341.9 422.6,342.0 422.9,342.0 423.3,342.1 423.6,342.2 423.9,342.2 424.2,342.3 424.5,342.3 424.8,342.3 425.1,342.4 425.4,342.4 425.8,342.4 426.1,342.4 426.4,342.5 426.7,342.5 427.0,342.5 427.3,342.5 427.6,342.5 427.9,342.5 428.2,342.6 428.6,342.6 428.9,342.6 429.2,342.6 429.5,342.6 429.8,342.6 430.1,342.6 430.4,342.6 430.7,342.7 431.1,342.7 431.4,342.7 431.7,342.7 432.0,342.7 432.3,342.7 432.6,342.7 432.9,342.7 433.2,342.7 433.5,342.7 433.9,342.7 434.2,342.7 434.5,342.8 434.8,342.8 435.1,342.8 435.4,342.8 435.7,342.8 436.0,342.8 436.4,342.8 436.7,342.8 437.0,342.8 437.3,342.8 437.6,342.8 437.9,342.8 438.2,342.8 438.5,342.8 438.9,342.9 439.2,342.9 439.5,342.9 439.8,342.9 440.1,342.9 440.4,342.9 440.7,342.9 441.0,342.9 441.3,342.9 441.7,342.9 442.0,342.9 442.3,342.9 442.6,343.0 442.9,343.0 443.2,343.0 443.5,343.0 443.8,343.0 444.2,343.0 444.5,343.0 444.8,343.0 445.1,343.0 445.4,343.0 445.7,343.0 446.0,343.1 446.3,343.1 446.7,343.1 447.0,343.1 447.3,343.1 447.6,343.1 447.9,343.1 448.2,343.1 448.5,343.1 448.8,343.1 449.1,343.1 449.5,343.1 449.8,343.1 450.1,343.1 450.4,343.1 450.7,343.1 451.0,343.1 451.3,343.1 451.6,343.1 452.0,343.1 452.3,343.1 452.6,343.1 452.9,343.1 453.2,343.1 453.5,343.0 453.8,343.0 454.1,343.0 454.4,343.0 454.8,342.9 455.1,342.9 455.4,342.9 455.7,342.9 456.0,342.8 456.3,342.8 456.6,342.8 456.9,342.7 457.3,342.7 457.6,342.7 457.9,342.7 458.2,342.6 458.5,342.6 458.8,342.6 459.1,342.6 459.4,342.5 459.8,342.5 460.1,342.5 460.4,342.5 460.7,342.4 461.0,342.4 461.3,342.4 461.6,342.4 461.9,342.3 462.2,342.3 462.6,342.3 462.9,342.2 463.2,342.2 463.5,342.2 463.8,342.1 464.1,342.1 464.4,342.0 464.7,342.0 465.1,342.0 465.4,341.9 465.7,341.9 466.0,341.8 466.3,341.7 466.6,341.7 466.9,341.6 467.2,341.6 467.5,341.5 467.9,341.4 468.2,341.3 468.5,341.2 468.8,341.2 469.1,341.1 469.4,341.0 469.7,340.9 470.0,340.8 470.4,340.8 470.7,340.7 471.0,340.6 471.3,340.5 471.6,340.4 471.9,340.4 472.2,340.3 472.5,340.2 472.9,340.1 473.2,340.1 473.5,340.0 473.8,339.9 474.1,339.9 474.4,339.8 474.7,339.7 475.0,339.7 475.3,339.6 475.7,339.5 476.0,339.5 476.3,339.4 476.6,339.3 476.9,339.3 477.2,339.2 477.5,339.1 477.8,339.0 478.2,339.0 478.5,338.9 478.8,338.8 479.1,338.7 479.4,338.6 479.7,338.5 480.0,338.4 480.3,338.3 480.7,338.2 481.0,338.1 481.3,338.0 481.6,337.9 481.9,337.8 482.2,337.7 482.5,337.5 482.8,337.4 483.1,337.3 483.5,337.2 483.8,337.0 484.1,336.9 484.4,336.7 484.7,336.6 485.0,336.4 485.3,336.2 485.6,336.0 486.0,335.8 486.3,335.6 486.6,335.4 486.9,335.1 487.2,334.9 487.5,334.5 487.8,334.2 488.1,333.8 488.4,333.4 488.8,333.0 489.1,332.5 489.4,332.1 489.7,331.6 490.0,331.1 490.3,330.6 490.6,330.0 490.9,329.5 491.3,328.8 491.6,328.2 491.9,327.5 492.2,326.8 492.5,326.0 492.8,325.3 493.1,324.5 493.4,323.7 493.8,322.9 494.1,322.1 494.4,321.2 494.7,320.3 495.0,319.3 495.3,318.4 495.6,317.4 495.9,316.4 496.2,315.4 496.6,314.4 496.9,313.4 497.2,312.4 497.5,311.5 497.8,310.5 498.1,309.5 498.4,308.6 498.7,307.6 499.1,306.6 499.4,305.5 499.7,304.4 500.0,303.2 500.3,301.9 500.6,300.6 500.9,299.1 501.2,297.5 501.5,295.8 501.9,294.0 502.2,292.1 502.5,290.1 502.8,288.1 503.1,286.0 503.4,283.9 503.7,281.9 504.0,279.8 504.4,277.7 504.7,275.5 505.0,273.3 505.3,271.1 505.6,268.8 505.9,266.5 506.2,264.1 506.5,261.8 506.9,259.4 507.2,257.0 507.5,254.6 507.8,252.2 508.1,249.8 508.4,247.4 508.7,245.0 509.0,242.5 509.3,240.1 509.7,237.6 510.0,235.1 510.3,232.5 510.6,229.9 510.9,227.3 511.2,224.6 511.5,221.9 511.8,219.1 512.2,216.3 512.5,213.4 512.8,210.5 513.1,207.6 513.4,204.6 513.7,201.6 514.0,198.6 514.3,195.5 514.6,192.4" fill="none" stroke="#111" stroke-width="1.35" stroke-linejoin="round"/></g>
<path d="M359,225.5 H514.6 M359,225.5 V343.6 H514.6" fill="none" stroke="#111" stroke-width="1.4"/>
<line x1="514.6" y1="224.8" x2="514.6" y2="344.3" stroke="#111" stroke-width="1.4" />
<line x1="359.0" y1="343.6" x2="364.2" y2="343.6" stroke="#111" stroke-width="1.3" />
<text x="356.2" y="346.6" font-size="8.3" fill="#111" text-anchor="end" font-family="'Liberation Sans', sans-serif" stroke="#111" stroke-width="0.2">0</text>
<line x1="359.0" y1="320.0" x2="364.2" y2="320.0" stroke="#111" stroke-width="1.3" />
<text x="356.2" y="322.9" font-size="8.3" fill="#111" text-anchor="end" font-family="'Liberation Sans', sans-serif" stroke="#111" stroke-width="0.2">-0.1</text>
<line x1="359.0" y1="296.4" x2="364.2" y2="296.4" stroke="#111" stroke-width="1.3" />
<text x="356.2" y="299.3" font-size="8.3" fill="#111" text-anchor="end" font-family="'Liberation Sans', sans-serif" stroke="#111" stroke-width="0.2">-0.2</text>
<line x1="359.0" y1="272.7" x2="364.2" y2="272.7" stroke="#111" stroke-width="1.3" />
<text x="356.2" y="275.7" font-size="8.3" fill="#111" text-anchor="end" font-family="'Liberation Sans', sans-serif" stroke="#111" stroke-width="0.2">-0.3</text>
<line x1="359.0" y1="249.1" x2="364.2" y2="249.1" stroke="#111" stroke-width="1.3" />
<text x="356.2" y="252.1" font-size="8.3" fill="#111" text-anchor="end" font-family="'Liberation Sans', sans-serif" stroke="#111" stroke-width="0.2">-0.4</text>
<line x1="359.0" y1="225.5" x2="364.2" y2="225.5" stroke="#111" stroke-width="1.3" />
<text x="356.2" y="228.4" font-size="8.3" fill="#111" text-anchor="end" font-family="'Liberation Sans', sans-serif" stroke="#111" stroke-width="0.2">-0.5</text>
<line x1="359.0" y1="343.6" x2="359.0" y2="338.6" stroke="#111" stroke-width="1.3" />
<text x="359.0" y="357.4" font-size="8.3" fill="#111" text-anchor="middle" font-family="'Liberation Sans', sans-serif" stroke="#111" stroke-width="0.2">-12</text>
<line x1="387.3" y1="343.6" x2="387.3" y2="338.6" stroke="#111" stroke-width="1.3" />
<text x="387.3" y="357.4" font-size="8.3" fill="#111" text-anchor="middle" font-family="'Liberation Sans', sans-serif" stroke="#111" stroke-width="0.2">-8</text>
<line x1="415.6" y1="343.6" x2="415.6" y2="338.6" stroke="#111" stroke-width="1.3" />
<text x="415.6" y="357.4" font-size="8.3" fill="#111" text-anchor="middle" font-family="'Liberation Sans', sans-serif" stroke="#111" stroke-width="0.2">-4</text>
<line x1="443.9" y1="343.6" x2="443.9" y2="338.6" stroke="#111" stroke-width="1.3" />
<text x="443.9" y="357.4" font-size="8.3" fill="#111" text-anchor="middle" font-family="'Liberation Sans', sans-serif" stroke="#111" stroke-width="0.2">0</text>
<line x1="472.2" y1="343.6" x2="472.2" y2="338.6" stroke="#111" stroke-width="1.3" />
<text x="472.2" y="357.4" font-size="8.3" fill="#111" text-anchor="middle" font-family="'Liberation Sans', sans-serif" stroke="#111" stroke-width="0.2">4</text>
<line x1="500.5" y1="343.6" x2="500.5" y2="338.6" stroke="#111" stroke-width="1.3" />
<text x="500.5" y="357.4" font-size="8.3" fill="#111" text-anchor="middle" font-family="'Liberation Sans', sans-serif" stroke="#111" stroke-width="0.2">8</text>
<line x1="514.6" y1="228.0" x2="509.6" y2="228.0" stroke="#111" stroke-width="1.3" />
<text x="518.5" y="231.4" font-size="8.8" fill="#1aa6e6" font-family="'Liberation Sans', sans-serif">10<tspan font-size="5.8" dy="-3.2">-9</tspan></text>
<line x1="514.6" y1="266.2" x2="509.6" y2="266.2" stroke="#111" stroke-width="1.3" />
<text x="518.5" y="269.6" font-size="8.8" fill="#1aa6e6" font-family="'Liberation Sans', sans-serif">10<tspan font-size="5.8" dy="-3.2">-10</tspan></text>
<line x1="514.6" y1="304.4" x2="509.6" y2="304.4" stroke="#111" stroke-width="1.3" />
<text x="518.5" y="307.8" font-size="8.8" fill="#1aa6e6" font-family="'Liberation Sans', sans-serif">10<tspan font-size="5.8" dy="-3.2">-11</tspan></text>
<line x1="514.6" y1="342.6" x2="509.6" y2="342.6" stroke="#111" stroke-width="1.3" />
<text x="518.5" y="346.0" font-size="8.8" fill="#1aa6e6" font-family="'Liberation Sans', sans-serif">10<tspan font-size="5.8" dy="-3.2">-12</tspan></text>
<text x="363.3" y="234.7" font-size="8.5" fill="#111" stroke="#111" stroke-width="0.15" font-family="'Liberation Sans', sans-serif">V<tspan font-size="5.8" dy="1.6">d</tspan><tspan dy="-1.6">= -3.0 V</tspan></text>
<text x="363.3" y="243.6" font-size="8.5" fill="#111" stroke="#111" stroke-width="0.15" font-family="'Liberation Sans', sans-serif">V<tspan font-size="5.8" dy="1.6">tg</tspan><tspan dy="-1.6">= -5.0 V</tspan></text>
<text transform="translate(338.5,284) rotate(-90)" text-anchor="middle" font-size="10" fill="#111" stroke="#111" stroke-width="0.25" font-family="'Liberation Sans', sans-serif">I<tspan font-size="6.5" dy="1.8">d</tspan><tspan dy="-1.8"> (nA)</tspan></text>
<text transform="translate(534.5,284) rotate(90)" text-anchor="middle" font-size="10" fill="#111" stroke="#111" stroke-width="0.25" font-family="'Liberation Sans', sans-serif">|I<tspan font-size="6.5" dy="1.8">d</tspan><tspan dy="-1.8">| (A)</tspan></text>
<text x="447" y="369.5" text-anchor="middle" font-size="10" fill="#111" stroke="#111" stroke-width="0.25" font-family="'Liberation Sans', sans-serif">V<tspan font-size="6.5" dy="1.8">bg</tspan><tspan dy="-1.8">(V)</tspan></text>
<line x1="380.0" y1="330.0" x2="366.8" y2="330.0" stroke="#111" stroke-width="1" /><polygon points="362.8,330.0 366.8,328.3 366.8,331.7" fill="#111" />
<line x1="476.7" y1="304.8" x2="485.7" y2="304.8" stroke="#3a6ec8" stroke-width="1" /><polygon points="489.7,304.8 485.7,306.5 485.7,303.1" fill="#3a6ec8" />
<text x="322.4" y="215.7" font-size="28" fill="#000" font-weight="bold" font-family="'Liberation Serif', serif" >d</text>
<text x="14.8" y="393.7" font-size="28" fill="#000" font-weight="bold" font-family="'Liberation Serif', serif" >e</text>
<rect x="30.5" y="407.2" width="96.69999999999999" height="96.0" fill="#fff"/>
<polygon points="31.5,408.2 55.9,408.2 55.9,412.8 67.6,412.8 67.6,427.8 72.8,427.8 72.8,439.1 79.0,439.1 79.0,449.4 84.7,449.4 84.7,454.0 90.5,454.0 90.5,459.7 96.1,459.7 96.1,465.9 101.6,465.9 101.6,471.1 113.2,471.1 113.2,477.2 107.4,477.2 107.4,482.4 118.7,482.4 118.7,485.5 113.6,485.5 113.6,490.0 126.3,490.0 126.3,502.0 31.5,502.0" fill="#a9a6a2" />
<line x1="53.2" y1="409.2" x2="53.2" y2="501.2" stroke="#f01818" stroke-width="1.0" stroke-dasharray="3.6 2.1"/><line x1="101.6" y1="409.2" x2="101.6" y2="501.2" stroke="#f01818" stroke-width="1.0" stroke-dasharray="3.6 2.1"/><line x1="32.5" y1="432.3" x2="121.8" y2="432.3" stroke="#f01818" stroke-width="1.0" stroke-dasharray="3.6 2.1"/><line x1="32.5" y1="485.5" x2="121.8" y2="485.5" stroke="#f01818" stroke-width="1.0" stroke-dasharray="3.6 2.1"/>
<rect x="31.1" y="407.8" width="95.5" height="94.8" fill="none" stroke="#38302c" stroke-width="3.8"/>
<circle cx="53.2" cy="432.3" r="5.6" fill="#f01818"/><text x="53.2" y="435.5" font-size="9" fill="#fff" text-anchor="middle" font-weight="bold" font-family="'Liberation Sans', sans-serif" >1</text><circle cx="101.6" cy="432.3" r="5.1" fill="#fff" stroke="#f01818" stroke-width="1.4"/><text x="101.6" y="435.3" font-size="8.4" fill="#111" text-anchor="middle" font-weight="bold" font-family="'Liberation Sans', sans-serif" >0</text><circle cx="53.2" cy="485.5" r="5.6" fill="#f01818"/><text x="53.2" y="488.7" font-size="9" fill="#fff" text-anchor="middle" font-weight="bold" font-family="'Liberation Sans', sans-serif" >1</text><circle cx="101.6" cy="485.5" r="5.6" fill="#f01818"/><text x="101.6" y="488.7" font-size="9" fill="#fff" text-anchor="middle" font-weight="bold" font-family="'Liberation Sans', sans-serif" >1</text>
<text x="77.5" y="402.3" font-size="10.7" fill="#000" text-anchor="middle" font-family="'Liberation Sans', sans-serif" stroke="#000" stroke-width="0.2">NAND</text>
<text x="9.5" y="435.6" font-size="9.6" fill="#f01818" text-anchor="middle" font-weight="bold" font-family="'Liberation Sans', sans-serif" >“1”</text><text x="9.8" y="491.0" font-size="9.6" fill="#f01818" text-anchor="middle" font-weight="bold" font-family="'Liberation Sans', sans-serif" >“0”</text>
<text x="26.4" y="411.4" font-size="7.0" fill="#111" text-anchor="end" font-family="'Liberation Sans', sans-serif" stroke="#111" stroke-width="0.15">-3.0</text><text x="26.4" y="449.4" font-size="7.0" fill="#111" text-anchor="end" font-family="'Liberation Sans', sans-serif" stroke="#111" stroke-width="0.15">-3.5</text><text x="26.8" y="487.8" font-size="7.0" fill="#111" text-anchor="end" font-family="'Liberation Sans', sans-serif" stroke="#111" stroke-width="0.15">-4.0</text>
<text x="72.1" y="513.4" font-size="7.0" fill="#111" text-anchor="middle" font-family="'Liberation Sans', sans-serif" stroke="#111" stroke-width="0.15">-8.0</text><text x="121.0" y="513.4" font-size="7.0" fill="#111" text-anchor="middle" font-family="'Liberation Sans', sans-serif" stroke="#111" stroke-width="0.15">-7.5</text>
<text x="55.8" y="518.8" font-size="9.6" fill="#f01818" text-anchor="middle" font-weight="bold" font-family="'Liberation Sans', sans-serif" >“0”</text><text x="101.6" y="518.8" font-size="9.6" fill="#f01818" text-anchor="middle" font-weight="bold" font-family="'Liberation Sans', sans-serif" >“1”</text>
<text transform="translate(12.2,453) rotate(-90)" text-anchor="middle" font-size="9.3" fill="#111" stroke="#111" stroke-width="0.15" font-family="'Liberation Sans', sans-serif">V<tspan font-size="5.9" dy="1.5">IN2</tspan><tspan dy="-1.5"> (V)</tspan></text><text x="80" y="524.2" text-anchor="middle" font-size="9.3" fill="#111" stroke="#111" stroke-width="0.15" font-family="'Liberation Sans', sans-serif">V<tspan font-size="5.9" dy="1.5">IN1</tspan><tspan dy="-1.5"> (V)</tspan></text>
<rect x="163.2" y="406.8" width="96.90000000000003" height="97.19999999999999" fill="#fff"/>
<polygon points="164.2,419.2 171.5,419.2 171.5,431.9 177.7,431.9 177.7,439.5 190.4,439.5 190.4,453.1 196.2,453.1 196.2,456.6 190.4,456.6 190.4,459.7 196.2,459.7 196.2,464.3 202.8,464.3 202.8,473.1 209.0,473.1 209.0,477.2 214.7,477.2 214.7,480.9 220.9,480.9 220.9,486.5 226.7,486.5 226.7,490.6 239.0,490.6 239.0,496.8 232.9,496.8 232.9,502.6 164.2,502.6" fill="#a9a6a2" />
<line x1="192.1" y1="408.8" x2="192.1" y2="502.0" stroke="#f01818" stroke-width="1.0" stroke-dasharray="3.6 2.1"/><line x1="241.1" y1="408.8" x2="241.1" y2="502.0" stroke="#f01818" stroke-width="1.0" stroke-dasharray="3.6 2.1"/><line x1="165.2" y1="426.4" x2="258.1" y2="426.4" stroke="#f01818" stroke-width="1.0" stroke-dasharray="3.6 2.1"/><line x1="165.2" y1="481.8" x2="258.1" y2="481.8" stroke="#f01818" stroke-width="1.0" stroke-dasharray="3.6 2.1"/>
<rect x="163.8" y="407.4" width="95.7" height="96.0" fill="none" stroke="#38302c" stroke-width="3.8"/>
<circle cx="192.1" cy="426.4" r="5.1" fill="#fff" stroke="#f01818" stroke-width="1.4"/><text x="192.1" y="429.4" font-size="8.4" fill="#111" text-anchor="middle" font-weight="bold" font-family="'Liberation Sans', sans-serif" >0</text><circle cx="241.1" cy="426.4" r="5.1" fill="#fff" stroke="#f01818" stroke-width="1.4"/><text x="241.1" y="429.4" font-size="8.4" fill="#111" text-anchor="middle" font-weight="bold" font-family="'Liberation Sans', sans-serif" >0</text><circle cx="192.1" cy="481.8" r="5.6" fill="#f01818"/><text x="192.1" y="485.0" font-size="9" fill="#fff" text-anchor="middle" font-weight="bold" font-family="'Liberation Sans', sans-serif" >1</text><circle cx="241.1" cy="481.8" r="5.1" fill="#fff" stroke="#f01818" stroke-width="1.4"/><text x="241.1" y="484.8" font-size="8.4" fill="#111" text-anchor="middle" font-weight="bold" font-family="'Liberation Sans', sans-serif" >0</text>
<text x="212.0" y="402.3" font-size="10.7" fill="#000" text-anchor="middle" font-family="'Liberation Sans', sans-serif" stroke="#000" stroke-width="0.2">NOR</text>
<text x="154.0" y="430.4" font-size="9.6" fill="#f01818" text-anchor="middle" font-weight="bold" font-family="'Liberation Sans', sans-serif" >“1”</text><text x="154.0" y="487.8" font-size="9.6" fill="#f01818" text-anchor="middle" font-weight="bold" font-family="'Liberation Sans', sans-serif" >“0”</text>
<text x="159.6" y="439.0" font-size="7.0" fill="#111" text-anchor="end" font-family="'Liberation Sans', sans-serif" stroke="#111" stroke-width="0.15">-3.0</text><text x="159.6" y="472.6" font-size="7.0" fill="#111" text-anchor="end" font-family="'Liberation Sans', sans-serif" stroke="#111" stroke-width="0.15">-3.5</text>
<text x="195.8" y="512.4" font-size="7.0" fill="#111" text-anchor="middle" font-family="'Liberation Sans', sans-serif" stroke="#111" stroke-width="0.15">-8.0</text><text x="247.5" y="512.4" font-size="7.0" fill="#111" text-anchor="middle" font-family="'Liberation Sans', sans-serif" stroke="#111" stroke-width="0.15">-7.5</text>
<text x="192.0" y="520.0" font-size="9.6" fill="#f01818" text-anchor="middle" font-weight="bold" font-family="'Liberation Sans', sans-serif" >“0”</text><text x="241.2" y="520.0" font-size="9.6" fill="#f01818" text-anchor="middle" font-weight="bold" font-family="'Liberation Sans', sans-serif" >“1”</text>
<text transform="translate(144.6,453) rotate(-90)" text-anchor="middle" font-size="9.3" fill="#111" stroke="#111" stroke-width="0.15" font-family="'Liberation Sans', sans-serif">V<tspan font-size="5.9" dy="1.5">IN2</tspan><tspan dy="-1.5"> (V)</tspan></text><text x="216.8" y="525.2" text-anchor="middle" font-size="9.3" fill="#111" stroke="#111" stroke-width="0.15" font-family="'Liberation Sans', sans-serif">V<tspan font-size="5.9" dy="1.5">IN1</tspan><tspan dy="-1.5"> (V)</tspan></text>
<rect x="308.8" y="407.2" width="97.30000000000001" height="96.80000000000001" fill="#fff"/>
<polygon points="358.7,408.2 358.7,415.4 361.8,415.4 361.8,420.6 365.5,420.6 365.5,428.8 366.9,428.8 366.9,434.0 370.0,434.0 370.0,439.1 375.2,439.1 375.2,444.3 377.9,444.3 377.9,448.4 377.9,448.4 377.9,449.4 380.7,449.4 380.7,454.6 383.4,454.6 383.4,457.7 383.4,457.7 383.4,459.7 387.5,459.7 387.5,460.8 387.5,460.8 387.5,463.9 387.5,463.9 387.5,464.9 390.6,464.9 390.6,466.9 390.6,466.9 390.6,470.0 395.2,470.0 395.2,471.1 395.2,471.1 395.2,475.2 397.2,475.2 397.2,479.3 405.0,479.3 405.0,483.4 405.0,483.4 405.0,486.5 405.0,486.5 405.0,490.6 405.0,490.6 405.0,495.2 405.0,495.2 405.0,498.9 405.0,498.9 405.0,503.0 376.2,503.0 376.2,498.9 373.1,498.9 373.1,495.2 368.0,495.2 368.0,490.6 361.8,490.6 361.8,486.5 358.7,486.5 358.7,483.4 355.6,483.4 355.6,479.3 352.5,479.3 352.5,475.2 348.4,475.2 348.4,471.1 344.3,471.1 344.3,470.0 344.3,470.0 344.3,466.9 341.2,466.9 341.2,464.9 341.2,464.9 341.2,463.9 338.1,463.9 338.1,460.8 333.0,460.8 333.0,459.7 333.0,459.7 333.0,457.7 327.8,457.7 327.8,454.6 327.8,454.6 327.8,449.4 327.8,449.4 327.8,448.4 317.5,448.4 317.5,444.3 314.4,444.3 314.4,439.1 310.3,439.1 310.3,434.0 310.3,434.0 310.3,428.8 310.3,428.8 310.3,420.6 310.3,420.6 310.3,415.4 310.3,415.4 310.3,408.2" fill="#a9a6a2" />
<line x1="327.8" y1="409.2" x2="327.8" y2="502.0" stroke="#f01818" stroke-width="1.0" stroke-dasharray="3.6 2.1"/><line x1="382.4" y1="409.2" x2="382.4" y2="502.0" stroke="#f01818" stroke-width="1.0" stroke-dasharray="3.6 2.1"/><line x1="310.8" y1="430.9" x2="404.1" y2="430.9" stroke="#f01818" stroke-width="1.0" stroke-dasharray="3.6 2.1"/><line x1="310.8" y1="483.4" x2="404.1" y2="483.4" stroke="#f01818" stroke-width="1.0" stroke-dasharray="3.6 2.1"/>
<rect x="309.4" y="407.8" width="96.1" height="95.6" fill="none" stroke="#38302c" stroke-width="3.8"/>
<circle cx="327.8" cy="430.9" r="5.6" fill="#f01818"/><text x="327.8" y="434.1" font-size="9" fill="#fff" text-anchor="middle" font-weight="bold" font-family="'Liberation Sans', sans-serif" >1</text><circle cx="382.4" cy="430.9" r="5.1" fill="#fff" stroke="#f01818" stroke-width="1.4"/><text x="382.4" y="433.9" font-size="8.4" fill="#111" text-anchor="middle" font-weight="bold" font-family="'Liberation Sans', sans-serif" >0</text><circle cx="327.8" cy="483.4" r="5.1" fill="#fff" stroke="#f01818" stroke-width="1.4"/><text x="327.8" y="486.4" font-size="8.4" fill="#111" text-anchor="middle" font-weight="bold" font-family="'Liberation Sans', sans-serif" >0</text><circle cx="382.4" cy="483.4" r="5.6" fill="#f01818"/><text x="382.4" y="486.6" font-size="9" fill="#fff" text-anchor="middle" font-weight="bold" font-family="'Liberation Sans', sans-serif" >1</text>
<text x="357.2" y="402.3" font-size="10.7" fill="#000" text-anchor="middle" font-family="'Liberation Sans', sans-serif" stroke="#000" stroke-width="0.2">XOR</text>
<text x="284.8" y="435.0" font-size="9.6" fill="#f01818" text-anchor="middle" font-weight="bold" font-family="'Liberation Sans', sans-serif" >“1”</text><text x="286.2" y="489.4" font-size="9.6" fill="#f01818" text-anchor="middle" font-weight="bold" font-family="'Liberation Sans', sans-serif" >“0”</text>
<text x="306.0" y="432.0" font-size="7.0" fill="#111" text-anchor="end" font-family="'Liberation Sans', sans-serif" stroke="#111" stroke-width="0.15">-3.0</text><text x="306.0" y="456.8" font-size="7.0" fill="#111" text-anchor="end" font-family="'Liberation Sans', sans-serif" stroke="#111" stroke-width="0.15">-3.5</text><text x="306.0" y="481.2" font-size="7.0" fill="#111" text-anchor="end" font-family="'Liberation Sans', sans-serif" stroke="#111" stroke-width="0.15">-4.0</text><text x="306.0" y="504.6" font-size="7.0" fill="#111" text-anchor="end" font-family="'Liberation Sans', sans-serif" stroke="#111" stroke-width="0.15">-4.5</text>
<text x="327.4" y="513.3" font-size="7.0" fill="#111" text-anchor="middle" font-family="'Liberation Sans', sans-serif" stroke="#111" stroke-width="0.15">-9.0</text><text x="351.6" y="513.3" font-size="7.0" fill="#111" text-anchor="middle" font-family="'Liberation Sans', sans-serif" stroke="#111" stroke-width="0.15">-8.5</text><text x="375.0" y="513.3" font-size="7.0" fill="#111" text-anchor="middle" font-family="'Liberation Sans', sans-serif" stroke="#111" stroke-width="0.15">-8.0</text><text x="399.2" y="513.3" font-size="7.0" fill="#111" text-anchor="middle" font-family="'Liberation Sans', sans-serif" stroke="#111" stroke-width="0.15">-7.5</text>
<text x="329.0" y="522.0" font-size="9.6" fill="#f01818" text-anchor="middle" font-weight="bold" font-family="'Liberation Sans', sans-serif" >“0”</text><text x="383.2" y="522.0" font-size="9.6" fill="#f01818" text-anchor="middle" font-weight="bold" font-family="'Liberation Sans', sans-serif" >“1”</text>
<text transform="translate(289.8,457.7) rotate(-90)" text-anchor="middle" font-size="9.3" fill="#111" stroke="#111" stroke-width="0.15" font-family="'Liberation Sans', sans-serif">V<tspan font-size="5.9" dy="1.5">IN2</tspan><tspan dy="-1.5"> (V)</tspan></text><text x="361" y="525.2" text-anchor="middle" font-size="9.3" fill="#111" stroke="#111" stroke-width="0.15" font-family="'Liberation Sans', sans-serif">V<tspan font-size="5.9" dy="1.5">IN1</tspan><tspan dy="-1.5"> (V)</tspan></text>
<rect x="443.2" y="408.2" width="97.90000000000003" height="96.80000000000001" fill="#fff"/>
<polygon points="444.3,409.3 539.0,409.3 539.0,444.3 521.5,444.3 521.5,439.1 512.2,439.1 512.2,434.0 501.9,434.0 501.9,430.9 491.6,430.9 491.6,427.8 483.4,427.8 483.4,424.7 444.3,424.7" fill="#a9a6a2" />
<polygon points="444.2,420.6 465.9,420.6 465.9,424.7 461.8,424.7 461.8,437.1 456.6,437.1 456.6,441.2 463.8,441.2 463.8,444.3 456.6,444.3 456.6,448.4 465.9,448.4 465.9,453.6 471.0,453.6 471.0,458.7 463.8,458.7 463.8,461.8 460.7,461.8 460.7,465.9 471.0,465.9 471.0,482.4 478.3,482.4 478.3,498.9 483.4,498.9 483.4,504.0 444.2,504.0" fill="#a9a6a2" />
<polygon points="450.4,412.4 460.7,412.4 460.7,416.5 465.9,416.5 465.9,420.6 453.5,420.6 453.5,416.5 450.4,416.5" fill="#fff" />
<line x1="469.4" y1="410.2" x2="469.4" y2="503.0" stroke="#f01818" stroke-width="1.0" stroke-dasharray="3.6 2.1"/><line x1="520.5" y1="410.2" x2="520.5" y2="503.0" stroke="#f01818" stroke-width="1.0" stroke-dasharray="3.6 2.1"/><line x1="445.2" y1="431.5" x2="539.1" y2="431.5" stroke="#f01818" stroke-width="1.0" stroke-dasharray="3.6 2.1"/><line x1="445.2" y1="495.2" x2="539.1" y2="495.2" stroke="#f01818" stroke-width="1.0" stroke-dasharray="3.6 2.1"/>
<rect x="443.8" y="408.8" width="96.7" height="95.6" fill="none" stroke="#38302c" stroke-width="3.8"/>
<circle cx="469.4" cy="431.5" r="5.1" fill="#fff" stroke="#f01818" stroke-width="1.4"/><text x="469.4" y="434.5" font-size="8.4" fill="#111" text-anchor="middle" font-weight="bold" font-family="'Liberation Sans', sans-serif" >0</text><circle cx="520.5" cy="431.5" r="5.6" fill="#f01818"/><text x="520.5" y="434.7" font-size="9" fill="#fff" text-anchor="middle" font-weight="bold" font-family="'Liberation Sans', sans-serif" >1</text><circle cx="469.4" cy="495.2" r="5.6" fill="#f01818"/><text x="469.4" y="498.4" font-size="9" fill="#fff" text-anchor="middle" font-weight="bold" font-family="'Liberation Sans', sans-serif" >1</text><circle cx="520.5" cy="495.2" r="5.1" fill="#fff" stroke="#f01818" stroke-width="1.4"/><text x="520.5" y="498.2" font-size="8.4" fill="#111" text-anchor="middle" font-weight="bold" font-family="'Liberation Sans', sans-serif" >0</text>
<text x="494.0" y="404.9" font-size="10.7" fill="#000" text-anchor="middle" font-family="'Liberation Sans', sans-serif" stroke="#000" stroke-width="0.2">XNOR</text>
<text x="431.6" y="436.8" font-size="9.6" fill="#f01818" text-anchor="middle" font-weight="bold" font-family="'Liberation Sans', sans-serif" >“1”</text><text x="432.3" y="500.6" font-size="9.6" fill="#f01818" text-anchor="middle" font-weight="bold" font-family="'Liberation Sans', sans-serif" >“0”</text>
<text x="441.0" y="422.3" font-size="7.0" fill="#111" text-anchor="end" font-family="'Liberation Sans', sans-serif" stroke="#111" stroke-width="0.15">-2.0</text><text x="441.0" y="463.4" font-size="7.0" fill="#111" text-anchor="end" font-family="'Liberation Sans', sans-serif" stroke="#111" stroke-width="0.15">-2.5</text><text x="441.0" y="506.7" font-size="7.0" fill="#111" text-anchor="end" font-family="'Liberation Sans', sans-serif" stroke="#111" stroke-width="0.15">-3.0</text>
<text x="460.6" y="514.6" font-size="7.0" fill="#111" text-anchor="middle" font-family="'Liberation Sans', sans-serif" stroke="#111" stroke-width="0.15">-8.5</text><text x="493.4" y="514.6" font-size="7.0" fill="#111" text-anchor="middle" font-family="'Liberation Sans', sans-serif" stroke="#111" stroke-width="0.15">-8.0</text><text x="525.4" y="514.6" font-size="7.0" fill="#111" text-anchor="middle" font-family="'Liberation Sans', sans-serif" stroke="#111" stroke-width="0.15">-7.5</text>
<text x="471.6" y="521.6" font-size="9.6" fill="#f01818" text-anchor="middle" font-weight="bold" font-family="'Liberation Sans', sans-serif" >“0”</text><text x="520.8" y="521.6" font-size="9.6" fill="#f01818" text-anchor="middle" font-weight="bold" font-family="'Liberation Sans', sans-serif" >“1”</text>
<text transform="translate(424,455) rotate(-90)" text-anchor="middle" font-size="9.3" fill="#111" stroke="#111" stroke-width="0.15" font-family="'Liberation Sans', sans-serif">V<tspan font-size="5.9" dy="1.5">IN2</tspan><tspan dy="-1.5"> (V)</tspan></text><text x="493.7" y="525.2" text-anchor="middle" font-size="9.3" fill="#111" stroke="#111" stroke-width="0.15" font-family="'Liberation Sans', sans-serif">V<tspan font-size="5.9" dy="1.5">IN1</tspan><tspan dy="-1.5"> (V)</tspan></text>
</svg></body></html>
